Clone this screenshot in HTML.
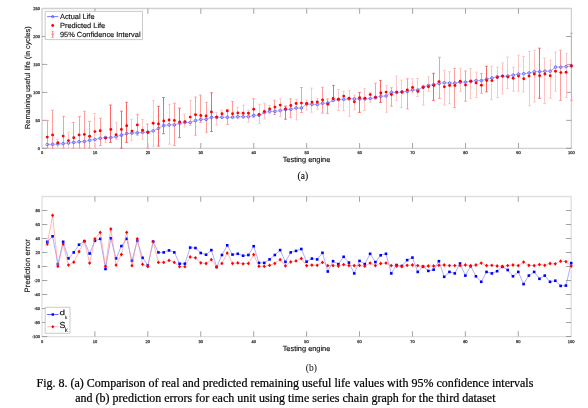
<!DOCTYPE html>
<html><head><meta charset="utf-8"><style>html,body{margin:0;padding:0;background:#fff;width:588px;height:408px;overflow:hidden;position:relative}</style></head>
<body>
<svg width="588" height="408" viewBox="0 0 588 408" style="position:absolute;left:0;top:0;will-change:transform">
<g font-family="'Liberation Sans', sans-serif" stroke-linejoin="round" text-rendering="geometricPrecision">
<rect x="42.0" y="8.5" width="529.4" height="139.8" fill="none" stroke="#d0d0d0" stroke-width="1.3"/>
<text x="42.00" y="154.10000000000002" font-size="4" text-anchor="middle" fill="#333" stroke="#333" stroke-width="0.25">0</text>
<line x1="94.94" y1="148.3" x2="94.94" y2="143.0" stroke="#8c8c8c" stroke-width="0.8"/>
<line x1="94.94" y1="8.5" x2="94.94" y2="13.8" stroke="#8c8c8c" stroke-width="0.8"/>
<text x="94.94" y="154.10000000000002" font-size="4" text-anchor="middle" fill="#333" stroke="#333" stroke-width="0.25">10</text>
<line x1="147.88" y1="148.3" x2="147.88" y2="143.0" stroke="#8c8c8c" stroke-width="0.8"/>
<line x1="147.88" y1="8.5" x2="147.88" y2="13.8" stroke="#8c8c8c" stroke-width="0.8"/>
<text x="147.88" y="154.10000000000002" font-size="4" text-anchor="middle" fill="#333" stroke="#333" stroke-width="0.25">20</text>
<line x1="200.82" y1="148.3" x2="200.82" y2="143.0" stroke="#8c8c8c" stroke-width="0.8"/>
<line x1="200.82" y1="8.5" x2="200.82" y2="13.8" stroke="#8c8c8c" stroke-width="0.8"/>
<text x="200.82" y="154.10000000000002" font-size="4" text-anchor="middle" fill="#333" stroke="#333" stroke-width="0.25">30</text>
<line x1="253.76" y1="148.3" x2="253.76" y2="143.0" stroke="#8c8c8c" stroke-width="0.8"/>
<line x1="253.76" y1="8.5" x2="253.76" y2="13.8" stroke="#8c8c8c" stroke-width="0.8"/>
<text x="253.76" y="154.10000000000002" font-size="4" text-anchor="middle" fill="#333" stroke="#333" stroke-width="0.25">40</text>
<line x1="306.70" y1="148.3" x2="306.70" y2="143.0" stroke="#8c8c8c" stroke-width="0.8"/>
<line x1="306.70" y1="8.5" x2="306.70" y2="13.8" stroke="#8c8c8c" stroke-width="0.8"/>
<text x="306.70" y="154.10000000000002" font-size="4" text-anchor="middle" fill="#333" stroke="#333" stroke-width="0.25">50</text>
<line x1="359.64" y1="148.3" x2="359.64" y2="143.0" stroke="#8c8c8c" stroke-width="0.8"/>
<line x1="359.64" y1="8.5" x2="359.64" y2="13.8" stroke="#8c8c8c" stroke-width="0.8"/>
<text x="359.64" y="154.10000000000002" font-size="4" text-anchor="middle" fill="#333" stroke="#333" stroke-width="0.25">60</text>
<line x1="412.58" y1="148.3" x2="412.58" y2="143.0" stroke="#8c8c8c" stroke-width="0.8"/>
<line x1="412.58" y1="8.5" x2="412.58" y2="13.8" stroke="#8c8c8c" stroke-width="0.8"/>
<text x="412.58" y="154.10000000000002" font-size="4" text-anchor="middle" fill="#333" stroke="#333" stroke-width="0.25">70</text>
<line x1="465.52" y1="148.3" x2="465.52" y2="143.0" stroke="#8c8c8c" stroke-width="0.8"/>
<line x1="465.52" y1="8.5" x2="465.52" y2="13.8" stroke="#8c8c8c" stroke-width="0.8"/>
<text x="465.52" y="154.10000000000002" font-size="4" text-anchor="middle" fill="#333" stroke="#333" stroke-width="0.25">80</text>
<line x1="518.46" y1="148.3" x2="518.46" y2="143.0" stroke="#8c8c8c" stroke-width="0.8"/>
<line x1="518.46" y1="8.5" x2="518.46" y2="13.8" stroke="#8c8c8c" stroke-width="0.8"/>
<text x="518.46" y="154.10000000000002" font-size="4" text-anchor="middle" fill="#333" stroke="#333" stroke-width="0.25">90</text>
<text x="571.40" y="154.10000000000002" font-size="4" text-anchor="middle" fill="#333" stroke="#333" stroke-width="0.25">100</text>
<line x1="42.0" y1="148.30" x2="47.3" y2="148.30" stroke="#8c8c8c" stroke-width="0.8"/>
<line x1="571.4" y1="148.30" x2="566.1" y2="148.30" stroke="#8c8c8c" stroke-width="0.8"/>
<text x="40.0" y="149.70" font-size="4" text-anchor="end" fill="#333" stroke="#333" stroke-width="0.25">0</text>
<line x1="42.0" y1="120.34" x2="47.3" y2="120.34" stroke="#8c8c8c" stroke-width="0.8"/>
<line x1="571.4" y1="120.34" x2="566.1" y2="120.34" stroke="#8c8c8c" stroke-width="0.8"/>
<text x="40.0" y="121.74" font-size="4" text-anchor="end" fill="#333" stroke="#333" stroke-width="0.25">50</text>
<line x1="42.0" y1="92.38" x2="47.3" y2="92.38" stroke="#8c8c8c" stroke-width="0.8"/>
<line x1="571.4" y1="92.38" x2="566.1" y2="92.38" stroke="#8c8c8c" stroke-width="0.8"/>
<text x="40.0" y="93.78" font-size="4" text-anchor="end" fill="#333" stroke="#333" stroke-width="0.25">100</text>
<line x1="42.0" y1="64.42" x2="47.3" y2="64.42" stroke="#8c8c8c" stroke-width="0.8"/>
<line x1="571.4" y1="64.42" x2="566.1" y2="64.42" stroke="#8c8c8c" stroke-width="0.8"/>
<text x="40.0" y="65.82" font-size="4" text-anchor="end" fill="#333" stroke="#333" stroke-width="0.25">150</text>
<line x1="42.0" y1="36.46" x2="47.3" y2="36.46" stroke="#8c8c8c" stroke-width="0.8"/>
<line x1="571.4" y1="36.46" x2="566.1" y2="36.46" stroke="#8c8c8c" stroke-width="0.8"/>
<text x="40.0" y="37.86" font-size="4" text-anchor="end" fill="#333" stroke="#333" stroke-width="0.25">200</text>
<text x="40.0" y="9.90" font-size="4" text-anchor="end" fill="#333" stroke="#333" stroke-width="0.25">250</text>
<line x1="47.50" y1="120.50" x2="47.50" y2="148.20" stroke="#ff9c9c" stroke-width="1"/>
<line x1="46.20" y1="120.50" x2="48.80" y2="120.50" stroke="#ff9c9c" stroke-width="1"/>
<line x1="46.20" y1="148.20" x2="48.80" y2="148.20" stroke="#ff9c9c" stroke-width="1"/>
<line x1="52.50" y1="110.30" x2="52.50" y2="148.20" stroke="#ff9c9c" stroke-width="1"/>
<line x1="51.20" y1="110.30" x2="53.80" y2="110.30" stroke="#ff9c9c" stroke-width="1"/>
<line x1="51.20" y1="148.20" x2="53.80" y2="148.20" stroke="#ff9c9c" stroke-width="1"/>
<line x1="57.50" y1="139.30" x2="57.50" y2="148.20" stroke="#ffc4c4" stroke-width="1"/>
<line x1="56.20" y1="139.30" x2="58.80" y2="139.30" stroke="#ffc4c4" stroke-width="1"/>
<line x1="56.20" y1="148.20" x2="58.80" y2="148.20" stroke="#ffc4c4" stroke-width="1"/>
<line x1="63.50" y1="116.40" x2="63.50" y2="148.20" stroke="#ff9c9c" stroke-width="1"/>
<line x1="62.20" y1="116.40" x2="64.80" y2="116.40" stroke="#ff9c9c" stroke-width="1"/>
<line x1="62.20" y1="148.20" x2="64.80" y2="148.20" stroke="#ff9c9c" stroke-width="1"/>
<line x1="68.50" y1="132.20" x2="68.50" y2="148.20" stroke="#ffc4c4" stroke-width="1"/>
<line x1="67.20" y1="132.20" x2="69.80" y2="132.20" stroke="#ffc4c4" stroke-width="1"/>
<line x1="67.20" y1="148.20" x2="69.80" y2="148.20" stroke="#ffc4c4" stroke-width="1"/>
<line x1="73.50" y1="122.40" x2="73.50" y2="148.20" stroke="#ff9c9c" stroke-width="1"/>
<line x1="72.20" y1="122.40" x2="74.80" y2="122.40" stroke="#ff9c9c" stroke-width="1"/>
<line x1="72.20" y1="148.20" x2="74.80" y2="148.20" stroke="#ff9c9c" stroke-width="1"/>
<line x1="79.50" y1="116.50" x2="79.50" y2="148.20" stroke="#ff9c9c" stroke-width="1"/>
<line x1="78.20" y1="116.50" x2="80.80" y2="116.50" stroke="#ff9c9c" stroke-width="1"/>
<line x1="78.20" y1="148.20" x2="80.80" y2="148.20" stroke="#ff9c9c" stroke-width="1"/>
<line x1="84.50" y1="111.30" x2="84.50" y2="148.20" stroke="#ff9c9c" stroke-width="1"/>
<line x1="83.20" y1="111.30" x2="85.80" y2="111.30" stroke="#ff9c9c" stroke-width="1"/>
<line x1="83.20" y1="148.20" x2="85.80" y2="148.20" stroke="#ff9c9c" stroke-width="1"/>
<line x1="89.50" y1="121.30" x2="89.50" y2="148.20" stroke="#ff9c9c" stroke-width="1"/>
<line x1="88.20" y1="121.30" x2="90.80" y2="121.30" stroke="#ff9c9c" stroke-width="1"/>
<line x1="88.20" y1="148.20" x2="90.80" y2="148.20" stroke="#ff9c9c" stroke-width="1"/>
<line x1="94.50" y1="113.50" x2="94.50" y2="148.20" stroke="#ffc4c4" stroke-width="1"/>
<line x1="93.20" y1="113.50" x2="95.80" y2="113.50" stroke="#ffc4c4" stroke-width="1"/>
<line x1="93.20" y1="148.20" x2="95.80" y2="148.20" stroke="#ffc4c4" stroke-width="1"/>
<line x1="100.50" y1="118.30" x2="100.50" y2="145.50" stroke="#ff9c9c" stroke-width="1"/>
<line x1="99.20" y1="118.30" x2="101.80" y2="118.30" stroke="#ff9c9c" stroke-width="1"/>
<line x1="99.20" y1="145.50" x2="101.80" y2="145.50" stroke="#ff9c9c" stroke-width="1"/>
<line x1="105.50" y1="136.50" x2="105.50" y2="142.40" stroke="#ffc4c4" stroke-width="1"/>
<line x1="104.20" y1="136.50" x2="106.80" y2="136.50" stroke="#ffc4c4" stroke-width="1"/>
<line x1="104.20" y1="142.40" x2="106.80" y2="142.40" stroke="#ffc4c4" stroke-width="1"/>
<line x1="110.50" y1="105.10" x2="110.50" y2="142.40" stroke="#ff6464" stroke-width="1"/>
<line x1="109.20" y1="105.10" x2="111.80" y2="105.10" stroke="#ff6464" stroke-width="1"/>
<line x1="109.20" y1="142.40" x2="111.80" y2="142.40" stroke="#ff6464" stroke-width="1"/>
<line x1="116.50" y1="122.40" x2="116.50" y2="139.50" stroke="#ffc4c4" stroke-width="1"/>
<line x1="115.20" y1="122.40" x2="117.80" y2="122.40" stroke="#ffc4c4" stroke-width="1"/>
<line x1="115.20" y1="139.50" x2="117.80" y2="139.50" stroke="#ffc4c4" stroke-width="1"/>
<line x1="121.50" y1="111.20" x2="121.50" y2="148.20" stroke="#ff6464" stroke-width="1"/>
<line x1="120.20" y1="111.20" x2="122.80" y2="111.20" stroke="#ff6464" stroke-width="1"/>
<line x1="120.20" y1="148.20" x2="122.80" y2="148.20" stroke="#ff6464" stroke-width="1"/>
<line x1="126.50" y1="102.40" x2="126.50" y2="142.40" stroke="#ff6464" stroke-width="1"/>
<line x1="125.20" y1="102.40" x2="127.80" y2="102.40" stroke="#ff6464" stroke-width="1"/>
<line x1="125.20" y1="142.40" x2="127.80" y2="142.40" stroke="#ff6464" stroke-width="1"/>
<line x1="131.50" y1="119.30" x2="131.50" y2="140.60" stroke="#ffc4c4" stroke-width="1"/>
<line x1="130.20" y1="119.30" x2="132.80" y2="119.30" stroke="#ffc4c4" stroke-width="1"/>
<line x1="130.20" y1="140.60" x2="132.80" y2="140.60" stroke="#ffc4c4" stroke-width="1"/>
<line x1="137.50" y1="114.30" x2="137.50" y2="135.20" stroke="#ff9c9c" stroke-width="1"/>
<line x1="136.20" y1="114.30" x2="138.80" y2="114.30" stroke="#ff9c9c" stroke-width="1"/>
<line x1="136.20" y1="135.20" x2="138.80" y2="135.20" stroke="#ff9c9c" stroke-width="1"/>
<line x1="142.50" y1="119.30" x2="142.50" y2="139.20" stroke="#ffc4c4" stroke-width="1"/>
<line x1="141.20" y1="119.30" x2="143.80" y2="119.30" stroke="#ffc4c4" stroke-width="1"/>
<line x1="141.20" y1="139.20" x2="143.80" y2="139.20" stroke="#ffc4c4" stroke-width="1"/>
<line x1="147.50" y1="124.00" x2="147.50" y2="148.20" stroke="#ff9c9c" stroke-width="1"/>
<line x1="146.20" y1="124.00" x2="148.80" y2="124.00" stroke="#ff9c9c" stroke-width="1"/>
<line x1="146.20" y1="148.20" x2="148.80" y2="148.20" stroke="#ff9c9c" stroke-width="1"/>
<line x1="153.50" y1="100.40" x2="153.50" y2="146.20" stroke="#ffc4c4" stroke-width="1"/>
<line x1="152.20" y1="100.40" x2="154.80" y2="100.40" stroke="#ffc4c4" stroke-width="1"/>
<line x1="152.20" y1="146.20" x2="154.80" y2="146.20" stroke="#ffc4c4" stroke-width="1"/>
<line x1="158.50" y1="106.30" x2="158.50" y2="146.10" stroke="#ff6464" stroke-width="1"/>
<line x1="157.20" y1="106.30" x2="159.80" y2="106.30" stroke="#ff6464" stroke-width="1"/>
<line x1="157.20" y1="146.10" x2="159.80" y2="146.10" stroke="#ff6464" stroke-width="1"/>
<line x1="163.50" y1="97.50" x2="163.50" y2="133.70" stroke="#ff6464" stroke-width="1"/>
<line x1="162.20" y1="97.50" x2="164.80" y2="97.50" stroke="#ff6464" stroke-width="1"/>
<line x1="162.20" y1="133.70" x2="164.80" y2="133.70" stroke="#ff6464" stroke-width="1"/>
<line x1="169.50" y1="104.30" x2="169.50" y2="144.10" stroke="#ffc4c4" stroke-width="1"/>
<line x1="168.20" y1="104.30" x2="170.80" y2="104.30" stroke="#ffc4c4" stroke-width="1"/>
<line x1="168.20" y1="144.10" x2="170.80" y2="144.10" stroke="#ffc4c4" stroke-width="1"/>
<line x1="174.50" y1="103.30" x2="174.50" y2="145.50" stroke="#ff9c9c" stroke-width="1"/>
<line x1="173.20" y1="103.30" x2="175.80" y2="103.30" stroke="#ff9c9c" stroke-width="1"/>
<line x1="173.20" y1="145.50" x2="175.80" y2="145.50" stroke="#ff9c9c" stroke-width="1"/>
<line x1="179.50" y1="108.20" x2="179.50" y2="137.60" stroke="#ff6464" stroke-width="1"/>
<line x1="178.20" y1="108.20" x2="180.80" y2="108.20" stroke="#ff6464" stroke-width="1"/>
<line x1="178.20" y1="137.60" x2="180.80" y2="137.60" stroke="#ff6464" stroke-width="1"/>
<line x1="184.50" y1="114.10" x2="184.50" y2="126.90" stroke="#ffc4c4" stroke-width="1"/>
<line x1="183.20" y1="114.10" x2="185.80" y2="114.10" stroke="#ffc4c4" stroke-width="1"/>
<line x1="183.20" y1="126.90" x2="185.80" y2="126.90" stroke="#ffc4c4" stroke-width="1"/>
<line x1="190.50" y1="100.40" x2="190.50" y2="125.50" stroke="#ffc4c4" stroke-width="1"/>
<line x1="189.20" y1="100.40" x2="191.80" y2="100.40" stroke="#ffc4c4" stroke-width="1"/>
<line x1="189.20" y1="125.50" x2="191.80" y2="125.50" stroke="#ffc4c4" stroke-width="1"/>
<line x1="195.50" y1="97.10" x2="195.50" y2="135.10" stroke="#ff9c9c" stroke-width="1"/>
<line x1="194.20" y1="97.10" x2="196.80" y2="97.10" stroke="#ff9c9c" stroke-width="1"/>
<line x1="194.20" y1="135.10" x2="196.80" y2="135.10" stroke="#ff9c9c" stroke-width="1"/>
<line x1="200.50" y1="95.10" x2="200.50" y2="122.50" stroke="#ff9c9c" stroke-width="1"/>
<line x1="199.20" y1="95.10" x2="201.80" y2="95.10" stroke="#ff9c9c" stroke-width="1"/>
<line x1="199.20" y1="122.50" x2="201.80" y2="122.50" stroke="#ff9c9c" stroke-width="1"/>
<line x1="206.50" y1="102.30" x2="206.50" y2="132.20" stroke="#ff9c9c" stroke-width="1"/>
<line x1="205.20" y1="102.30" x2="207.80" y2="102.30" stroke="#ff9c9c" stroke-width="1"/>
<line x1="205.20" y1="132.20" x2="207.80" y2="132.20" stroke="#ff9c9c" stroke-width="1"/>
<line x1="211.50" y1="92.80" x2="211.50" y2="131.50" stroke="#ff6464" stroke-width="1"/>
<line x1="210.20" y1="92.80" x2="212.80" y2="92.80" stroke="#ff6464" stroke-width="1"/>
<line x1="210.20" y1="131.50" x2="212.80" y2="131.50" stroke="#ff6464" stroke-width="1"/>
<line x1="216.50" y1="112.40" x2="216.50" y2="124.80" stroke="#ffc4c4" stroke-width="1"/>
<line x1="215.20" y1="112.40" x2="217.80" y2="112.40" stroke="#ffc4c4" stroke-width="1"/>
<line x1="215.20" y1="124.80" x2="217.80" y2="124.80" stroke="#ffc4c4" stroke-width="1"/>
<line x1="221.50" y1="110.20" x2="221.50" y2="117.30" stroke="#ffc4c4" stroke-width="1"/>
<line x1="220.20" y1="110.20" x2="222.80" y2="110.20" stroke="#ffc4c4" stroke-width="1"/>
<line x1="220.20" y1="117.30" x2="222.80" y2="117.30" stroke="#ffc4c4" stroke-width="1"/>
<line x1="227.50" y1="109.30" x2="227.50" y2="124.40" stroke="#ff9c9c" stroke-width="1"/>
<line x1="226.20" y1="109.30" x2="228.80" y2="109.30" stroke="#ff9c9c" stroke-width="1"/>
<line x1="226.20" y1="124.40" x2="228.80" y2="124.40" stroke="#ff9c9c" stroke-width="1"/>
<line x1="232.50" y1="101.40" x2="232.50" y2="117.30" stroke="#ff9c9c" stroke-width="1"/>
<line x1="231.20" y1="101.40" x2="233.80" y2="101.40" stroke="#ff9c9c" stroke-width="1"/>
<line x1="231.20" y1="117.30" x2="233.80" y2="117.30" stroke="#ff9c9c" stroke-width="1"/>
<line x1="237.50" y1="107.20" x2="237.50" y2="118.70" stroke="#ffc4c4" stroke-width="1"/>
<line x1="236.20" y1="107.20" x2="238.80" y2="107.20" stroke="#ffc4c4" stroke-width="1"/>
<line x1="236.20" y1="118.70" x2="238.80" y2="118.70" stroke="#ffc4c4" stroke-width="1"/>
<line x1="243.50" y1="105.20" x2="243.50" y2="118.00" stroke="#ffc4c4" stroke-width="1"/>
<line x1="242.20" y1="105.20" x2="244.80" y2="105.20" stroke="#ffc4c4" stroke-width="1"/>
<line x1="242.20" y1="118.00" x2="244.80" y2="118.00" stroke="#ffc4c4" stroke-width="1"/>
<line x1="248.50" y1="110.30" x2="248.50" y2="122.10" stroke="#ffc4c4" stroke-width="1"/>
<line x1="247.20" y1="110.30" x2="249.80" y2="110.30" stroke="#ffc4c4" stroke-width="1"/>
<line x1="247.20" y1="122.10" x2="249.80" y2="122.10" stroke="#ffc4c4" stroke-width="1"/>
<line x1="253.50" y1="98.70" x2="253.50" y2="117.30" stroke="#ff9c9c" stroke-width="1"/>
<line x1="252.20" y1="98.70" x2="254.80" y2="98.70" stroke="#ff9c9c" stroke-width="1"/>
<line x1="252.20" y1="117.30" x2="254.80" y2="117.30" stroke="#ff9c9c" stroke-width="1"/>
<line x1="259.50" y1="104.30" x2="259.50" y2="123.40" stroke="#ffc4c4" stroke-width="1"/>
<line x1="258.20" y1="104.30" x2="260.80" y2="104.30" stroke="#ffc4c4" stroke-width="1"/>
<line x1="258.20" y1="123.40" x2="260.80" y2="123.40" stroke="#ffc4c4" stroke-width="1"/>
<line x1="264.50" y1="103.20" x2="264.50" y2="118.80" stroke="#ffc4c4" stroke-width="1"/>
<line x1="263.20" y1="103.20" x2="265.80" y2="103.20" stroke="#ffc4c4" stroke-width="1"/>
<line x1="263.20" y1="118.80" x2="265.80" y2="118.80" stroke="#ffc4c4" stroke-width="1"/>
<line x1="269.50" y1="105.50" x2="269.50" y2="113.90" stroke="#ffc4c4" stroke-width="1"/>
<line x1="268.20" y1="105.50" x2="270.80" y2="105.50" stroke="#ffc4c4" stroke-width="1"/>
<line x1="268.20" y1="113.90" x2="270.80" y2="113.90" stroke="#ffc4c4" stroke-width="1"/>
<line x1="274.50" y1="100.20" x2="274.50" y2="114.50" stroke="#ff9c9c" stroke-width="1"/>
<line x1="273.20" y1="100.20" x2="275.80" y2="100.20" stroke="#ff9c9c" stroke-width="1"/>
<line x1="273.20" y1="114.50" x2="275.80" y2="114.50" stroke="#ff9c9c" stroke-width="1"/>
<line x1="280.50" y1="98.80" x2="280.50" y2="116.50" stroke="#ffc4c4" stroke-width="1"/>
<line x1="279.20" y1="98.80" x2="281.80" y2="98.80" stroke="#ffc4c4" stroke-width="1"/>
<line x1="279.20" y1="116.50" x2="281.80" y2="116.50" stroke="#ffc4c4" stroke-width="1"/>
<line x1="285.50" y1="106.10" x2="285.50" y2="119.20" stroke="#ff6464" stroke-width="1"/>
<line x1="284.20" y1="106.10" x2="286.80" y2="106.10" stroke="#ff6464" stroke-width="1"/>
<line x1="284.20" y1="119.20" x2="286.80" y2="119.20" stroke="#ff6464" stroke-width="1"/>
<line x1="290.50" y1="98.80" x2="290.50" y2="117.30" stroke="#ff9c9c" stroke-width="1"/>
<line x1="289.20" y1="98.80" x2="291.80" y2="98.80" stroke="#ff9c9c" stroke-width="1"/>
<line x1="289.20" y1="117.30" x2="291.80" y2="117.30" stroke="#ff9c9c" stroke-width="1"/>
<line x1="296.50" y1="99.20" x2="296.50" y2="119.80" stroke="#ffc4c4" stroke-width="1"/>
<line x1="295.20" y1="99.20" x2="297.80" y2="99.20" stroke="#ffc4c4" stroke-width="1"/>
<line x1="295.20" y1="119.80" x2="297.80" y2="119.80" stroke="#ffc4c4" stroke-width="1"/>
<line x1="301.50" y1="87.50" x2="301.50" y2="112.50" stroke="#ff9c9c" stroke-width="1"/>
<line x1="300.20" y1="87.50" x2="302.80" y2="87.50" stroke="#ff9c9c" stroke-width="1"/>
<line x1="300.20" y1="112.50" x2="302.80" y2="112.50" stroke="#ff9c9c" stroke-width="1"/>
<line x1="306.50" y1="100.20" x2="306.50" y2="110.00" stroke="#ffc4c4" stroke-width="1"/>
<line x1="305.20" y1="100.20" x2="307.80" y2="100.20" stroke="#ffc4c4" stroke-width="1"/>
<line x1="305.20" y1="110.00" x2="307.80" y2="110.00" stroke="#ffc4c4" stroke-width="1"/>
<line x1="311.50" y1="88.10" x2="311.50" y2="112.20" stroke="#ffc4c4" stroke-width="1"/>
<line x1="310.20" y1="88.10" x2="312.80" y2="88.10" stroke="#ffc4c4" stroke-width="1"/>
<line x1="310.20" y1="112.20" x2="312.80" y2="112.20" stroke="#ffc4c4" stroke-width="1"/>
<line x1="317.50" y1="98.60" x2="317.50" y2="109.20" stroke="#ffc4c4" stroke-width="1"/>
<line x1="316.20" y1="98.60" x2="318.80" y2="98.60" stroke="#ffc4c4" stroke-width="1"/>
<line x1="316.20" y1="109.20" x2="318.80" y2="109.20" stroke="#ffc4c4" stroke-width="1"/>
<line x1="322.50" y1="87.30" x2="322.50" y2="113.10" stroke="#ff9c9c" stroke-width="1"/>
<line x1="321.20" y1="87.30" x2="323.80" y2="87.30" stroke="#ff9c9c" stroke-width="1"/>
<line x1="321.20" y1="113.10" x2="323.80" y2="113.10" stroke="#ff9c9c" stroke-width="1"/>
<line x1="327.50" y1="98.90" x2="327.50" y2="113.40" stroke="#ff9c9c" stroke-width="1"/>
<line x1="326.20" y1="98.90" x2="328.80" y2="98.90" stroke="#ff9c9c" stroke-width="1"/>
<line x1="326.20" y1="113.40" x2="328.80" y2="113.40" stroke="#ff9c9c" stroke-width="1"/>
<line x1="333.50" y1="85.40" x2="333.50" y2="100.00" stroke="#ff6464" stroke-width="1"/>
<line x1="332.20" y1="85.40" x2="334.80" y2="85.40" stroke="#ff6464" stroke-width="1"/>
<line x1="332.20" y1="100.00" x2="334.80" y2="100.00" stroke="#ff6464" stroke-width="1"/>
<line x1="338.50" y1="89.50" x2="338.50" y2="110.50" stroke="#ffc4c4" stroke-width="1"/>
<line x1="337.20" y1="89.50" x2="339.80" y2="89.50" stroke="#ffc4c4" stroke-width="1"/>
<line x1="337.20" y1="110.50" x2="339.80" y2="110.50" stroke="#ffc4c4" stroke-width="1"/>
<line x1="343.50" y1="91.30" x2="343.50" y2="110.50" stroke="#ffc4c4" stroke-width="1"/>
<line x1="342.20" y1="91.30" x2="344.80" y2="91.30" stroke="#ffc4c4" stroke-width="1"/>
<line x1="342.20" y1="110.50" x2="344.80" y2="110.50" stroke="#ffc4c4" stroke-width="1"/>
<line x1="349.50" y1="90.30" x2="349.50" y2="116.40" stroke="#ffc4c4" stroke-width="1"/>
<line x1="348.20" y1="90.30" x2="350.80" y2="90.30" stroke="#ffc4c4" stroke-width="1"/>
<line x1="348.20" y1="116.40" x2="350.80" y2="116.40" stroke="#ffc4c4" stroke-width="1"/>
<line x1="354.50" y1="95.20" x2="354.50" y2="109.90" stroke="#ffc4c4" stroke-width="1"/>
<line x1="353.20" y1="95.20" x2="355.80" y2="95.20" stroke="#ffc4c4" stroke-width="1"/>
<line x1="353.20" y1="109.90" x2="355.80" y2="109.90" stroke="#ffc4c4" stroke-width="1"/>
<line x1="359.50" y1="92.40" x2="359.50" y2="112.40" stroke="#ff6464" stroke-width="1"/>
<line x1="358.20" y1="92.40" x2="360.80" y2="92.40" stroke="#ff6464" stroke-width="1"/>
<line x1="358.20" y1="112.40" x2="360.80" y2="112.40" stroke="#ff6464" stroke-width="1"/>
<line x1="364.50" y1="88.70" x2="364.50" y2="110.50" stroke="#ffc4c4" stroke-width="1"/>
<line x1="363.20" y1="88.70" x2="365.80" y2="88.70" stroke="#ffc4c4" stroke-width="1"/>
<line x1="363.20" y1="110.50" x2="365.80" y2="110.50" stroke="#ffc4c4" stroke-width="1"/>
<line x1="370.50" y1="92.40" x2="370.50" y2="102.20" stroke="#ffc4c4" stroke-width="1"/>
<line x1="369.20" y1="92.40" x2="371.80" y2="92.40" stroke="#ffc4c4" stroke-width="1"/>
<line x1="369.20" y1="102.20" x2="371.80" y2="102.20" stroke="#ffc4c4" stroke-width="1"/>
<line x1="375.50" y1="83.20" x2="375.50" y2="98.80" stroke="#ff9c9c" stroke-width="1"/>
<line x1="374.20" y1="83.20" x2="376.80" y2="83.20" stroke="#ff9c9c" stroke-width="1"/>
<line x1="374.20" y1="98.80" x2="376.80" y2="98.80" stroke="#ff9c9c" stroke-width="1"/>
<line x1="380.50" y1="80.40" x2="380.50" y2="102.50" stroke="#ff6464" stroke-width="1"/>
<line x1="379.20" y1="80.40" x2="381.80" y2="80.40" stroke="#ff6464" stroke-width="1"/>
<line x1="379.20" y1="102.50" x2="381.80" y2="102.50" stroke="#ff6464" stroke-width="1"/>
<line x1="386.50" y1="85.30" x2="386.50" y2="112.30" stroke="#ffc4c4" stroke-width="1"/>
<line x1="385.20" y1="85.30" x2="387.80" y2="85.30" stroke="#ffc4c4" stroke-width="1"/>
<line x1="385.20" y1="112.30" x2="387.80" y2="112.30" stroke="#ffc4c4" stroke-width="1"/>
<line x1="391.50" y1="87.80" x2="391.50" y2="106.20" stroke="#ff9c9c" stroke-width="1"/>
<line x1="390.20" y1="87.80" x2="392.80" y2="87.80" stroke="#ff9c9c" stroke-width="1"/>
<line x1="390.20" y1="106.20" x2="392.80" y2="106.20" stroke="#ff9c9c" stroke-width="1"/>
<line x1="396.50" y1="76.10" x2="396.50" y2="100.60" stroke="#ffc4c4" stroke-width="1"/>
<line x1="395.20" y1="76.10" x2="397.80" y2="76.10" stroke="#ffc4c4" stroke-width="1"/>
<line x1="395.20" y1="100.60" x2="397.80" y2="100.60" stroke="#ffc4c4" stroke-width="1"/>
<line x1="401.50" y1="80.20" x2="401.50" y2="107.60" stroke="#ffc4c4" stroke-width="1"/>
<line x1="400.20" y1="80.20" x2="402.80" y2="80.20" stroke="#ffc4c4" stroke-width="1"/>
<line x1="400.20" y1="107.60" x2="402.80" y2="107.60" stroke="#ffc4c4" stroke-width="1"/>
<line x1="407.50" y1="78.80" x2="407.50" y2="109.00" stroke="#ff9c9c" stroke-width="1"/>
<line x1="406.20" y1="78.80" x2="408.80" y2="78.80" stroke="#ff9c9c" stroke-width="1"/>
<line x1="406.20" y1="109.00" x2="408.80" y2="109.00" stroke="#ff9c9c" stroke-width="1"/>
<line x1="412.50" y1="78.80" x2="412.50" y2="92.90" stroke="#ffc4c4" stroke-width="1"/>
<line x1="411.20" y1="78.80" x2="413.80" y2="78.80" stroke="#ffc4c4" stroke-width="1"/>
<line x1="411.20" y1="92.90" x2="413.80" y2="92.90" stroke="#ffc4c4" stroke-width="1"/>
<line x1="417.50" y1="78.50" x2="417.50" y2="96.50" stroke="#ffc4c4" stroke-width="1"/>
<line x1="416.20" y1="78.50" x2="418.80" y2="78.50" stroke="#ffc4c4" stroke-width="1"/>
<line x1="416.20" y1="96.50" x2="418.80" y2="96.50" stroke="#ffc4c4" stroke-width="1"/>
<line x1="423.50" y1="85.10" x2="423.50" y2="105.10" stroke="#ffc4c4" stroke-width="1"/>
<line x1="422.20" y1="85.10" x2="424.80" y2="85.10" stroke="#ffc4c4" stroke-width="1"/>
<line x1="422.20" y1="105.10" x2="424.80" y2="105.10" stroke="#ffc4c4" stroke-width="1"/>
<line x1="428.50" y1="76.90" x2="428.50" y2="91.40" stroke="#ffc4c4" stroke-width="1"/>
<line x1="427.20" y1="76.90" x2="429.80" y2="76.90" stroke="#ffc4c4" stroke-width="1"/>
<line x1="427.20" y1="91.40" x2="429.80" y2="91.40" stroke="#ffc4c4" stroke-width="1"/>
<line x1="433.50" y1="73.30" x2="433.50" y2="100.40" stroke="#ff6464" stroke-width="1"/>
<line x1="432.20" y1="73.30" x2="434.80" y2="73.30" stroke="#ff6464" stroke-width="1"/>
<line x1="432.20" y1="100.40" x2="434.80" y2="100.40" stroke="#ff6464" stroke-width="1"/>
<line x1="439.50" y1="57.30" x2="439.50" y2="98.40" stroke="#ff9c9c" stroke-width="1"/>
<line x1="438.20" y1="57.30" x2="440.80" y2="57.30" stroke="#ff9c9c" stroke-width="1"/>
<line x1="438.20" y1="98.40" x2="440.80" y2="98.40" stroke="#ff9c9c" stroke-width="1"/>
<line x1="444.50" y1="70.40" x2="444.50" y2="105.10" stroke="#ffc4c4" stroke-width="1"/>
<line x1="443.20" y1="70.40" x2="445.80" y2="70.40" stroke="#ffc4c4" stroke-width="1"/>
<line x1="443.20" y1="105.10" x2="445.80" y2="105.10" stroke="#ffc4c4" stroke-width="1"/>
<line x1="449.50" y1="71.80" x2="449.50" y2="103.70" stroke="#ffc4c4" stroke-width="1"/>
<line x1="448.20" y1="71.80" x2="450.80" y2="71.80" stroke="#ffc4c4" stroke-width="1"/>
<line x1="448.20" y1="103.70" x2="450.80" y2="103.70" stroke="#ffc4c4" stroke-width="1"/>
<line x1="454.50" y1="68.40" x2="454.50" y2="107.60" stroke="#ff9c9c" stroke-width="1"/>
<line x1="453.20" y1="68.40" x2="455.80" y2="68.40" stroke="#ff9c9c" stroke-width="1"/>
<line x1="453.20" y1="107.60" x2="455.80" y2="107.60" stroke="#ff9c9c" stroke-width="1"/>
<line x1="460.50" y1="68.40" x2="460.50" y2="91.40" stroke="#ffc4c4" stroke-width="1"/>
<line x1="459.20" y1="68.40" x2="461.80" y2="68.40" stroke="#ffc4c4" stroke-width="1"/>
<line x1="459.20" y1="91.40" x2="461.80" y2="91.40" stroke="#ffc4c4" stroke-width="1"/>
<line x1="465.50" y1="71.00" x2="465.50" y2="101.20" stroke="#ff9c9c" stroke-width="1"/>
<line x1="464.20" y1="71.00" x2="466.80" y2="71.00" stroke="#ff9c9c" stroke-width="1"/>
<line x1="464.20" y1="101.20" x2="466.80" y2="101.20" stroke="#ff9c9c" stroke-width="1"/>
<line x1="470.50" y1="68.60" x2="470.50" y2="98.40" stroke="#ffc4c4" stroke-width="1"/>
<line x1="469.20" y1="68.60" x2="471.80" y2="68.60" stroke="#ffc4c4" stroke-width="1"/>
<line x1="469.20" y1="98.40" x2="471.80" y2="98.40" stroke="#ffc4c4" stroke-width="1"/>
<line x1="476.50" y1="72.20" x2="476.50" y2="97.60" stroke="#ffc4c4" stroke-width="1"/>
<line x1="475.20" y1="72.20" x2="477.80" y2="72.20" stroke="#ffc4c4" stroke-width="1"/>
<line x1="475.20" y1="97.60" x2="477.80" y2="97.60" stroke="#ffc4c4" stroke-width="1"/>
<line x1="481.50" y1="73.50" x2="481.50" y2="93.10" stroke="#ff9c9c" stroke-width="1"/>
<line x1="480.20" y1="73.50" x2="482.80" y2="73.50" stroke="#ff9c9c" stroke-width="1"/>
<line x1="480.20" y1="93.10" x2="482.80" y2="93.10" stroke="#ff9c9c" stroke-width="1"/>
<line x1="486.50" y1="66.30" x2="486.50" y2="91.80" stroke="#ff6464" stroke-width="1"/>
<line x1="485.20" y1="66.30" x2="487.80" y2="66.30" stroke="#ff6464" stroke-width="1"/>
<line x1="485.20" y1="91.80" x2="487.80" y2="91.80" stroke="#ff6464" stroke-width="1"/>
<line x1="491.50" y1="66.30" x2="491.50" y2="99.60" stroke="#ffc4c4" stroke-width="1"/>
<line x1="490.20" y1="66.30" x2="492.80" y2="66.30" stroke="#ffc4c4" stroke-width="1"/>
<line x1="490.20" y1="99.60" x2="492.80" y2="99.60" stroke="#ffc4c4" stroke-width="1"/>
<line x1="497.50" y1="67.30" x2="497.50" y2="97.60" stroke="#ffc4c4" stroke-width="1"/>
<line x1="496.20" y1="67.30" x2="498.80" y2="67.30" stroke="#ffc4c4" stroke-width="1"/>
<line x1="496.20" y1="97.60" x2="498.80" y2="97.60" stroke="#ffc4c4" stroke-width="1"/>
<line x1="502.50" y1="62.90" x2="502.50" y2="93.70" stroke="#ffc4c4" stroke-width="1"/>
<line x1="501.20" y1="62.90" x2="503.80" y2="62.90" stroke="#ffc4c4" stroke-width="1"/>
<line x1="501.20" y1="93.70" x2="503.80" y2="93.70" stroke="#ffc4c4" stroke-width="1"/>
<line x1="507.50" y1="57.20" x2="507.50" y2="88.60" stroke="#ffc4c4" stroke-width="1"/>
<line x1="506.20" y1="57.20" x2="508.80" y2="57.20" stroke="#ffc4c4" stroke-width="1"/>
<line x1="506.20" y1="88.60" x2="508.80" y2="88.60" stroke="#ffc4c4" stroke-width="1"/>
<line x1="513.50" y1="67.20" x2="513.50" y2="91.20" stroke="#ffc4c4" stroke-width="1"/>
<line x1="512.20" y1="67.20" x2="514.80" y2="67.20" stroke="#ffc4c4" stroke-width="1"/>
<line x1="512.20" y1="91.20" x2="514.80" y2="91.20" stroke="#ffc4c4" stroke-width="1"/>
<line x1="518.50" y1="55.10" x2="518.50" y2="91.20" stroke="#ffc4c4" stroke-width="1"/>
<line x1="517.20" y1="55.10" x2="519.80" y2="55.10" stroke="#ffc4c4" stroke-width="1"/>
<line x1="517.20" y1="91.20" x2="519.80" y2="91.20" stroke="#ffc4c4" stroke-width="1"/>
<line x1="523.50" y1="56.50" x2="523.50" y2="92.00" stroke="#ffc4c4" stroke-width="1"/>
<line x1="522.20" y1="56.50" x2="524.80" y2="56.50" stroke="#ffc4c4" stroke-width="1"/>
<line x1="522.20" y1="92.00" x2="524.80" y2="92.00" stroke="#ffc4c4" stroke-width="1"/>
<line x1="529.50" y1="51.40" x2="529.50" y2="105.70" stroke="#ffc4c4" stroke-width="1"/>
<line x1="528.20" y1="51.40" x2="530.80" y2="51.40" stroke="#ffc4c4" stroke-width="1"/>
<line x1="528.20" y1="105.70" x2="530.80" y2="105.70" stroke="#ffc4c4" stroke-width="1"/>
<line x1="534.50" y1="50.30" x2="534.50" y2="102.00" stroke="#ffc4c4" stroke-width="1"/>
<line x1="533.20" y1="50.30" x2="535.80" y2="50.30" stroke="#ffc4c4" stroke-width="1"/>
<line x1="533.20" y1="102.00" x2="535.80" y2="102.00" stroke="#ffc4c4" stroke-width="1"/>
<line x1="539.50" y1="48.20" x2="539.50" y2="98.30" stroke="#ff6464" stroke-width="1"/>
<line x1="538.20" y1="48.20" x2="540.80" y2="48.20" stroke="#ff6464" stroke-width="1"/>
<line x1="538.20" y1="98.30" x2="540.80" y2="98.30" stroke="#ff6464" stroke-width="1"/>
<line x1="544.50" y1="58.00" x2="544.50" y2="103.50" stroke="#ffc4c4" stroke-width="1"/>
<line x1="543.20" y1="58.00" x2="545.80" y2="58.00" stroke="#ffc4c4" stroke-width="1"/>
<line x1="543.20" y1="103.50" x2="545.80" y2="103.50" stroke="#ffc4c4" stroke-width="1"/>
<line x1="550.50" y1="60.20" x2="550.50" y2="98.30" stroke="#ffc4c4" stroke-width="1"/>
<line x1="549.20" y1="60.20" x2="551.80" y2="60.20" stroke="#ffc4c4" stroke-width="1"/>
<line x1="549.20" y1="98.30" x2="551.80" y2="98.30" stroke="#ffc4c4" stroke-width="1"/>
<line x1="555.50" y1="52.00" x2="555.50" y2="91.10" stroke="#ffc4c4" stroke-width="1"/>
<line x1="554.20" y1="52.00" x2="556.80" y2="52.00" stroke="#ffc4c4" stroke-width="1"/>
<line x1="554.20" y1="91.10" x2="556.80" y2="91.10" stroke="#ffc4c4" stroke-width="1"/>
<line x1="560.50" y1="50.30" x2="560.50" y2="100.40" stroke="#ff9c9c" stroke-width="1"/>
<line x1="559.20" y1="50.30" x2="561.80" y2="50.30" stroke="#ff9c9c" stroke-width="1"/>
<line x1="559.20" y1="100.40" x2="561.80" y2="100.40" stroke="#ff9c9c" stroke-width="1"/>
<line x1="566.50" y1="53.40" x2="566.50" y2="97.50" stroke="#ffc4c4" stroke-width="1"/>
<line x1="565.20" y1="53.40" x2="567.80" y2="53.40" stroke="#ffc4c4" stroke-width="1"/>
<line x1="565.20" y1="97.50" x2="567.80" y2="97.50" stroke="#ffc4c4" stroke-width="1"/>
<line x1="571.50" y1="33.30" x2="571.50" y2="100.40" stroke="#ff9c9c" stroke-width="1"/>
<line x1="570.20" y1="33.30" x2="572.80" y2="33.30" stroke="#ff9c9c" stroke-width="1"/>
<line x1="570.20" y1="100.40" x2="572.80" y2="100.40" stroke="#ff9c9c" stroke-width="1"/>
<polyline points="47.29,144.50 52.59,144.30 57.88,144.00 63.18,143.60 68.47,143.00 73.76,142.40 79.06,141.80 84.35,141.50 89.65,140.30 94.94,139.50 100.23,138.30 105.53,137.60 110.82,137.60 116.12,136.60 121.41,135.20 126.70,133.60 132.00,133.10 137.29,132.80 142.59,132.30 147.88,132.00 153.17,130.90 158.47,128.40 163.76,125.50 169.06,124.90 174.35,124.90 179.64,123.30 184.94,122.50 190.23,122.50 195.53,120.60 200.82,119.40 206.11,119.40 211.41,117.30 216.70,117.30 222.00,117.30 227.29,117.30 232.58,117.30 237.88,116.70 243.17,116.70 248.47,116.70 253.76,115.30 259.05,115.30 264.35,112.50 269.64,111.40 274.94,111.40 280.23,110.60 285.52,109.40 290.82,109.40 296.11,108.00 301.41,108.00 306.70,104.10 311.99,104.30 317.29,104.50 322.58,103.30 327.88,103.00 333.17,100.50 338.46,99.50 343.76,99.30 349.05,98.90 354.35,98.90 359.64,98.90 364.93,98.90 370.23,98.50 375.52,97.60 380.82,96.30 386.11,96.00 391.40,92.30 396.70,92.40 401.99,92.00 407.29,91.40 412.58,90.00 417.87,90.00 423.17,87.00 428.46,85.50 433.76,84.70 439.05,83.50 444.34,82.70 449.64,83.10 454.93,83.10 460.23,82.20 465.52,82.20 470.81,81.30 476.11,80.60 481.40,80.60 486.70,79.00 491.99,78.00 497.28,76.70 502.58,76.10 507.87,76.00 513.17,75.10 518.46,74.10 523.75,73.70 529.05,73.00 534.34,71.70 539.64,71.70 544.93,71.20 550.22,71.20 555.52,67.10 560.81,67.10 566.11,66.60 571.40,66.10" fill="none" stroke="#9090ff" stroke-width="0.7"/>
<circle cx="47.29" cy="144.50" r="1.35" fill="none" stroke="#5050ff" stroke-width="0.75"/>
<circle cx="52.59" cy="144.30" r="1.35" fill="none" stroke="#5050ff" stroke-width="0.75"/>
<circle cx="57.88" cy="144.00" r="1.35" fill="none" stroke="#5050ff" stroke-width="0.75"/>
<circle cx="63.18" cy="143.60" r="1.35" fill="none" stroke="#5050ff" stroke-width="0.75"/>
<circle cx="68.47" cy="143.00" r="1.35" fill="none" stroke="#5050ff" stroke-width="0.75"/>
<circle cx="73.76" cy="142.40" r="1.35" fill="none" stroke="#5050ff" stroke-width="0.75"/>
<circle cx="79.06" cy="141.80" r="1.35" fill="none" stroke="#5050ff" stroke-width="0.75"/>
<circle cx="84.35" cy="141.50" r="1.35" fill="none" stroke="#5050ff" stroke-width="0.75"/>
<circle cx="89.65" cy="140.30" r="1.35" fill="none" stroke="#5050ff" stroke-width="0.75"/>
<circle cx="94.94" cy="139.50" r="1.35" fill="none" stroke="#5050ff" stroke-width="0.75"/>
<circle cx="100.23" cy="138.30" r="1.35" fill="none" stroke="#5050ff" stroke-width="0.75"/>
<circle cx="105.53" cy="137.60" r="1.35" fill="none" stroke="#5050ff" stroke-width="0.75"/>
<circle cx="110.82" cy="137.60" r="1.35" fill="none" stroke="#5050ff" stroke-width="0.75"/>
<circle cx="116.12" cy="136.60" r="1.35" fill="none" stroke="#5050ff" stroke-width="0.75"/>
<circle cx="121.41" cy="135.20" r="1.35" fill="none" stroke="#5050ff" stroke-width="0.75"/>
<circle cx="126.70" cy="133.60" r="1.35" fill="none" stroke="#5050ff" stroke-width="0.75"/>
<circle cx="132.00" cy="133.10" r="1.35" fill="none" stroke="#5050ff" stroke-width="0.75"/>
<circle cx="137.29" cy="132.80" r="1.35" fill="none" stroke="#5050ff" stroke-width="0.75"/>
<circle cx="142.59" cy="132.30" r="1.35" fill="none" stroke="#5050ff" stroke-width="0.75"/>
<circle cx="147.88" cy="132.00" r="1.35" fill="none" stroke="#5050ff" stroke-width="0.75"/>
<circle cx="153.17" cy="130.90" r="1.35" fill="none" stroke="#5050ff" stroke-width="0.75"/>
<circle cx="158.47" cy="128.40" r="1.35" fill="none" stroke="#5050ff" stroke-width="0.75"/>
<circle cx="163.76" cy="125.50" r="1.35" fill="none" stroke="#5050ff" stroke-width="0.75"/>
<circle cx="169.06" cy="124.90" r="1.35" fill="none" stroke="#5050ff" stroke-width="0.75"/>
<circle cx="174.35" cy="124.90" r="1.35" fill="none" stroke="#5050ff" stroke-width="0.75"/>
<circle cx="179.64" cy="123.30" r="1.35" fill="none" stroke="#5050ff" stroke-width="0.75"/>
<circle cx="184.94" cy="122.50" r="1.35" fill="none" stroke="#5050ff" stroke-width="0.75"/>
<circle cx="190.23" cy="122.50" r="1.35" fill="none" stroke="#5050ff" stroke-width="0.75"/>
<circle cx="195.53" cy="120.60" r="1.35" fill="none" stroke="#5050ff" stroke-width="0.75"/>
<circle cx="200.82" cy="119.40" r="1.35" fill="none" stroke="#5050ff" stroke-width="0.75"/>
<circle cx="206.11" cy="119.40" r="1.35" fill="none" stroke="#5050ff" stroke-width="0.75"/>
<circle cx="211.41" cy="117.30" r="1.35" fill="none" stroke="#5050ff" stroke-width="0.75"/>
<circle cx="216.70" cy="117.30" r="1.35" fill="none" stroke="#5050ff" stroke-width="0.75"/>
<circle cx="222.00" cy="117.30" r="1.35" fill="none" stroke="#5050ff" stroke-width="0.75"/>
<circle cx="227.29" cy="117.30" r="1.35" fill="none" stroke="#5050ff" stroke-width="0.75"/>
<circle cx="232.58" cy="117.30" r="1.35" fill="none" stroke="#5050ff" stroke-width="0.75"/>
<circle cx="237.88" cy="116.70" r="1.35" fill="none" stroke="#5050ff" stroke-width="0.75"/>
<circle cx="243.17" cy="116.70" r="1.35" fill="none" stroke="#5050ff" stroke-width="0.75"/>
<circle cx="248.47" cy="116.70" r="1.35" fill="none" stroke="#5050ff" stroke-width="0.75"/>
<circle cx="253.76" cy="115.30" r="1.35" fill="none" stroke="#5050ff" stroke-width="0.75"/>
<circle cx="259.05" cy="115.30" r="1.35" fill="none" stroke="#5050ff" stroke-width="0.75"/>
<circle cx="264.35" cy="112.50" r="1.35" fill="none" stroke="#5050ff" stroke-width="0.75"/>
<circle cx="269.64" cy="111.40" r="1.35" fill="none" stroke="#5050ff" stroke-width="0.75"/>
<circle cx="274.94" cy="111.40" r="1.35" fill="none" stroke="#5050ff" stroke-width="0.75"/>
<circle cx="280.23" cy="110.60" r="1.35" fill="none" stroke="#5050ff" stroke-width="0.75"/>
<circle cx="285.52" cy="109.40" r="1.35" fill="none" stroke="#5050ff" stroke-width="0.75"/>
<circle cx="290.82" cy="109.40" r="1.35" fill="none" stroke="#5050ff" stroke-width="0.75"/>
<circle cx="296.11" cy="108.00" r="1.35" fill="none" stroke="#5050ff" stroke-width="0.75"/>
<circle cx="301.41" cy="108.00" r="1.35" fill="none" stroke="#5050ff" stroke-width="0.75"/>
<circle cx="306.70" cy="104.10" r="1.35" fill="none" stroke="#5050ff" stroke-width="0.75"/>
<circle cx="311.99" cy="104.30" r="1.35" fill="none" stroke="#5050ff" stroke-width="0.75"/>
<circle cx="317.29" cy="104.50" r="1.35" fill="none" stroke="#5050ff" stroke-width="0.75"/>
<circle cx="322.58" cy="103.30" r="1.35" fill="none" stroke="#5050ff" stroke-width="0.75"/>
<circle cx="327.88" cy="103.00" r="1.35" fill="none" stroke="#5050ff" stroke-width="0.75"/>
<circle cx="333.17" cy="100.50" r="1.35" fill="none" stroke="#5050ff" stroke-width="0.75"/>
<circle cx="338.46" cy="99.50" r="1.35" fill="none" stroke="#5050ff" stroke-width="0.75"/>
<circle cx="343.76" cy="99.30" r="1.35" fill="none" stroke="#5050ff" stroke-width="0.75"/>
<circle cx="349.05" cy="98.90" r="1.35" fill="none" stroke="#5050ff" stroke-width="0.75"/>
<circle cx="354.35" cy="98.90" r="1.35" fill="none" stroke="#5050ff" stroke-width="0.75"/>
<circle cx="359.64" cy="98.90" r="1.35" fill="none" stroke="#5050ff" stroke-width="0.75"/>
<circle cx="364.93" cy="98.90" r="1.35" fill="none" stroke="#5050ff" stroke-width="0.75"/>
<circle cx="370.23" cy="98.50" r="1.35" fill="none" stroke="#5050ff" stroke-width="0.75"/>
<circle cx="375.52" cy="97.60" r="1.35" fill="none" stroke="#5050ff" stroke-width="0.75"/>
<circle cx="380.82" cy="96.30" r="1.35" fill="none" stroke="#5050ff" stroke-width="0.75"/>
<circle cx="386.11" cy="96.00" r="1.35" fill="none" stroke="#5050ff" stroke-width="0.75"/>
<circle cx="391.40" cy="92.30" r="1.35" fill="none" stroke="#5050ff" stroke-width="0.75"/>
<circle cx="396.70" cy="92.40" r="1.35" fill="none" stroke="#5050ff" stroke-width="0.75"/>
<circle cx="401.99" cy="92.00" r="1.35" fill="none" stroke="#5050ff" stroke-width="0.75"/>
<circle cx="407.29" cy="91.40" r="1.35" fill="none" stroke="#5050ff" stroke-width="0.75"/>
<circle cx="412.58" cy="90.00" r="1.35" fill="none" stroke="#5050ff" stroke-width="0.75"/>
<circle cx="417.87" cy="90.00" r="1.35" fill="none" stroke="#5050ff" stroke-width="0.75"/>
<circle cx="423.17" cy="87.00" r="1.35" fill="none" stroke="#5050ff" stroke-width="0.75"/>
<circle cx="428.46" cy="85.50" r="1.35" fill="none" stroke="#5050ff" stroke-width="0.75"/>
<circle cx="433.76" cy="84.70" r="1.35" fill="none" stroke="#5050ff" stroke-width="0.75"/>
<circle cx="439.05" cy="83.50" r="1.35" fill="none" stroke="#5050ff" stroke-width="0.75"/>
<circle cx="444.34" cy="82.70" r="1.35" fill="none" stroke="#5050ff" stroke-width="0.75"/>
<circle cx="449.64" cy="83.10" r="1.35" fill="none" stroke="#5050ff" stroke-width="0.75"/>
<circle cx="454.93" cy="83.10" r="1.35" fill="none" stroke="#5050ff" stroke-width="0.75"/>
<circle cx="460.23" cy="82.20" r="1.35" fill="none" stroke="#5050ff" stroke-width="0.75"/>
<circle cx="465.52" cy="82.20" r="1.35" fill="none" stroke="#5050ff" stroke-width="0.75"/>
<circle cx="470.81" cy="81.30" r="1.35" fill="none" stroke="#5050ff" stroke-width="0.75"/>
<circle cx="476.11" cy="80.60" r="1.35" fill="none" stroke="#5050ff" stroke-width="0.75"/>
<circle cx="481.40" cy="80.60" r="1.35" fill="none" stroke="#5050ff" stroke-width="0.75"/>
<circle cx="486.70" cy="79.00" r="1.35" fill="none" stroke="#5050ff" stroke-width="0.75"/>
<circle cx="491.99" cy="78.00" r="1.35" fill="none" stroke="#5050ff" stroke-width="0.75"/>
<circle cx="497.28" cy="76.70" r="1.35" fill="none" stroke="#5050ff" stroke-width="0.75"/>
<circle cx="502.58" cy="76.10" r="1.35" fill="none" stroke="#5050ff" stroke-width="0.75"/>
<circle cx="507.87" cy="76.00" r="1.35" fill="none" stroke="#5050ff" stroke-width="0.75"/>
<circle cx="513.17" cy="75.10" r="1.35" fill="none" stroke="#5050ff" stroke-width="0.75"/>
<circle cx="518.46" cy="74.10" r="1.35" fill="none" stroke="#5050ff" stroke-width="0.75"/>
<circle cx="523.75" cy="73.70" r="1.35" fill="none" stroke="#5050ff" stroke-width="0.75"/>
<circle cx="529.05" cy="73.00" r="1.35" fill="none" stroke="#5050ff" stroke-width="0.75"/>
<circle cx="534.34" cy="71.70" r="1.35" fill="none" stroke="#5050ff" stroke-width="0.75"/>
<circle cx="539.64" cy="71.70" r="1.35" fill="none" stroke="#5050ff" stroke-width="0.75"/>
<circle cx="544.93" cy="71.20" r="1.35" fill="none" stroke="#5050ff" stroke-width="0.75"/>
<circle cx="550.22" cy="71.20" r="1.35" fill="none" stroke="#5050ff" stroke-width="0.75"/>
<circle cx="555.52" cy="67.10" r="1.35" fill="none" stroke="#5050ff" stroke-width="0.75"/>
<circle cx="560.81" cy="67.10" r="1.35" fill="none" stroke="#5050ff" stroke-width="0.75"/>
<circle cx="566.11" cy="66.60" r="1.35" fill="none" stroke="#5050ff" stroke-width="0.75"/>
<circle cx="571.40" cy="66.10" r="1.35" fill="none" stroke="#5050ff" stroke-width="0.75"/>
<circle cx="47.29" cy="137.10" r="1.45" fill="#ff0000"/>
<circle cx="52.59" cy="134.90" r="1.45" fill="#ff0000"/>
<circle cx="57.88" cy="142.80" r="1.45" fill="#ff0000"/>
<circle cx="63.18" cy="136.10" r="1.45" fill="#ff0000"/>
<circle cx="68.47" cy="140.60" r="1.45" fill="#ff0000"/>
<circle cx="73.76" cy="137.80" r="1.45" fill="#ff0000"/>
<circle cx="79.06" cy="134.90" r="1.45" fill="#ff0000"/>
<circle cx="84.35" cy="134.40" r="1.45" fill="#ff0000"/>
<circle cx="89.65" cy="136.20" r="1.45" fill="#ff0000"/>
<circle cx="94.94" cy="131.60" r="1.45" fill="#ff0000"/>
<circle cx="100.23" cy="130.70" r="1.45" fill="#ff0000"/>
<circle cx="105.53" cy="138.10" r="1.45" fill="#ff0000"/>
<circle cx="110.82" cy="129.40" r="1.45" fill="#ff0000"/>
<circle cx="116.12" cy="134.80" r="1.45" fill="#ff0000"/>
<circle cx="121.41" cy="129.40" r="1.45" fill="#ff0000"/>
<circle cx="126.70" cy="125.70" r="1.45" fill="#ff0000"/>
<circle cx="132.00" cy="131.10" r="1.45" fill="#ff0000"/>
<circle cx="137.29" cy="124.90" r="1.45" fill="#ff0000"/>
<circle cx="142.59" cy="130.30" r="1.45" fill="#ff0000"/>
<circle cx="147.88" cy="132.50" r="1.45" fill="#ff0000"/>
<circle cx="153.17" cy="123.30" r="1.45" fill="#ff0000"/>
<circle cx="158.47" cy="123.90" r="1.45" fill="#ff0000"/>
<circle cx="163.76" cy="121.00" r="1.45" fill="#ff0000"/>
<circle cx="169.06" cy="120.00" r="1.45" fill="#ff0000"/>
<circle cx="174.35" cy="120.40" r="1.45" fill="#ff0000"/>
<circle cx="179.64" cy="122.00" r="1.45" fill="#ff0000"/>
<circle cx="184.94" cy="121.60" r="1.45" fill="#ff0000"/>
<circle cx="190.23" cy="117.10" r="1.45" fill="#ff0000"/>
<circle cx="195.53" cy="114.70" r="1.45" fill="#ff0000"/>
<circle cx="200.82" cy="115.50" r="1.45" fill="#ff0000"/>
<circle cx="206.11" cy="116.00" r="1.45" fill="#ff0000"/>
<circle cx="211.41" cy="112.00" r="1.45" fill="#ff0000"/>
<circle cx="216.70" cy="117.10" r="1.45" fill="#ff0000"/>
<circle cx="222.00" cy="113.70" r="1.45" fill="#ff0000"/>
<circle cx="227.29" cy="110.90" r="1.45" fill="#ff0000"/>
<circle cx="232.58" cy="113.70" r="1.45" fill="#ff0000"/>
<circle cx="237.88" cy="112.90" r="1.45" fill="#ff0000"/>
<circle cx="243.17" cy="113.30" r="1.45" fill="#ff0000"/>
<circle cx="248.47" cy="113.30" r="1.45" fill="#ff0000"/>
<circle cx="253.76" cy="109.30" r="1.45" fill="#ff0000"/>
<circle cx="259.05" cy="114.40" r="1.45" fill="#ff0000"/>
<circle cx="264.35" cy="111.50" r="1.45" fill="#ff0000"/>
<circle cx="269.64" cy="109.00" r="1.45" fill="#ff0000"/>
<circle cx="274.94" cy="107.10" r="1.45" fill="#ff0000"/>
<circle cx="280.23" cy="105.10" r="1.45" fill="#ff0000"/>
<circle cx="285.52" cy="109.00" r="1.45" fill="#ff0000"/>
<circle cx="290.82" cy="105.50" r="1.45" fill="#ff0000"/>
<circle cx="296.11" cy="103.50" r="1.45" fill="#ff0000"/>
<circle cx="301.41" cy="103.10" r="1.45" fill="#ff0000"/>
<circle cx="306.70" cy="103.50" r="1.45" fill="#ff0000"/>
<circle cx="311.99" cy="102.10" r="1.45" fill="#ff0000"/>
<circle cx="317.29" cy="102.00" r="1.45" fill="#ff0000"/>
<circle cx="322.58" cy="100.00" r="1.45" fill="#ff0000"/>
<circle cx="327.88" cy="104.20" r="1.45" fill="#ff0000"/>
<circle cx="333.17" cy="98.50" r="1.45" fill="#ff0000"/>
<circle cx="338.46" cy="99.30" r="1.45" fill="#ff0000"/>
<circle cx="343.76" cy="96.10" r="1.45" fill="#ff0000"/>
<circle cx="349.05" cy="98.30" r="1.45" fill="#ff0000"/>
<circle cx="354.35" cy="101.70" r="1.45" fill="#ff0000"/>
<circle cx="359.64" cy="97.70" r="1.45" fill="#ff0000"/>
<circle cx="364.93" cy="98.30" r="1.45" fill="#ff0000"/>
<circle cx="370.23" cy="94.60" r="1.45" fill="#ff0000"/>
<circle cx="375.52" cy="97.20" r="1.45" fill="#ff0000"/>
<circle cx="380.82" cy="93.00" r="1.45" fill="#ff0000"/>
<circle cx="386.11" cy="92.10" r="1.45" fill="#ff0000"/>
<circle cx="391.40" cy="94.50" r="1.45" fill="#ff0000"/>
<circle cx="396.70" cy="92.10" r="1.45" fill="#ff0000"/>
<circle cx="401.99" cy="92.00" r="1.45" fill="#ff0000"/>
<circle cx="407.29" cy="90.00" r="1.45" fill="#ff0000"/>
<circle cx="412.58" cy="87.50" r="1.45" fill="#ff0000"/>
<circle cx="417.87" cy="91.40" r="1.45" fill="#ff0000"/>
<circle cx="423.17" cy="87.50" r="1.45" fill="#ff0000"/>
<circle cx="428.46" cy="86.70" r="1.45" fill="#ff0000"/>
<circle cx="433.76" cy="85.50" r="1.45" fill="#ff0000"/>
<circle cx="439.05" cy="81.60" r="1.45" fill="#ff0000"/>
<circle cx="444.34" cy="86.70" r="1.45" fill="#ff0000"/>
<circle cx="449.64" cy="85.50" r="1.45" fill="#ff0000"/>
<circle cx="454.93" cy="85.50" r="1.45" fill="#ff0000"/>
<circle cx="460.23" cy="81.20" r="1.45" fill="#ff0000"/>
<circle cx="465.52" cy="85.10" r="1.45" fill="#ff0000"/>
<circle cx="470.81" cy="81.30" r="1.45" fill="#ff0000"/>
<circle cx="476.11" cy="82.90" r="1.45" fill="#ff0000"/>
<circle cx="481.40" cy="85.30" r="1.45" fill="#ff0000"/>
<circle cx="486.70" cy="80.60" r="1.45" fill="#ff0000"/>
<circle cx="491.99" cy="80.60" r="1.45" fill="#ff0000"/>
<circle cx="497.28" cy="77.50" r="1.45" fill="#ff0000"/>
<circle cx="502.58" cy="76.10" r="1.45" fill="#ff0000"/>
<circle cx="507.87" cy="77.10" r="1.45" fill="#ff0000"/>
<circle cx="513.17" cy="78.30" r="1.45" fill="#ff0000"/>
<circle cx="518.46" cy="76.10" r="1.45" fill="#ff0000"/>
<circle cx="523.75" cy="78.80" r="1.45" fill="#ff0000"/>
<circle cx="529.05" cy="76.10" r="1.45" fill="#ff0000"/>
<circle cx="534.34" cy="74.00" r="1.45" fill="#ff0000"/>
<circle cx="539.64" cy="75.70" r="1.45" fill="#ff0000"/>
<circle cx="544.93" cy="74.00" r="1.45" fill="#ff0000"/>
<circle cx="550.22" cy="75.70" r="1.45" fill="#ff0000"/>
<circle cx="555.52" cy="71.20" r="1.45" fill="#ff0000"/>
<circle cx="560.81" cy="72.60" r="1.45" fill="#ff0000"/>
<circle cx="566.11" cy="72.20" r="1.45" fill="#ff0000"/>
<circle cx="571.40" cy="65.80" r="1.45" fill="#ff0000"/>
<rect x="45.2" y="11.4" width="97.3" height="28.2" fill="#fff" stroke="#bdbdbd" stroke-width="0.8"/>
<line x1="47.1" y1="16.6" x2="58.3" y2="16.6" stroke="#7070ff" stroke-width="0.9"/>
<circle cx="52.7" cy="16.6" r="1.1" fill="none" stroke="#3030ff" stroke-width="0.7"/>
<circle cx="52.7" cy="25.5" r="1.4" fill="#ff0000"/>
<line x1="52.7" y1="31.4" x2="52.7" y2="37.4" stroke="#ff6060" stroke-width="0.7"/>
<line x1="51.7" y1="31.4" x2="53.7" y2="31.4" stroke="#ff6060" stroke-width="0.7"/>
<line x1="51.7" y1="37.4" x2="53.7" y2="37.4" stroke="#ff6060" stroke-width="0.7"/>
<circle cx="52.7" cy="34.4" r="1" fill="none" stroke="#ff6060" stroke-width="0.6"/>
<text x="60" y="19.3" font-size="7.4" fill="#111" stroke="#111" stroke-width="0.15">Actual Life</text>
<text x="60" y="27.8" font-size="7.4" fill="#111" stroke="#111" stroke-width="0.15">Predicted Life</text>
<text x="60" y="36.9" font-size="7.4" fill="#111" stroke="#111" stroke-width="0.15">95% Confidence Interval</text>
<text transform="translate(29.8,128.9) rotate(-90)" font-size="7.3" fill="#111" stroke="#111" stroke-width="0.15">Remaining useful life (in cycles)</text>
<text x="306.5" y="162.4" font-size="7.4" text-anchor="middle" fill="#111" stroke="#111" stroke-width="0.15">Testing engine</text>
<rect x="42.0" y="196.5" width="529.2" height="140.10000000000002" fill="none" stroke="#e0e0e0" stroke-width="1.3"/>
<text x="42.00" y="343.40000000000003" font-size="4" text-anchor="middle" fill="#333" stroke="#333" stroke-width="0.25">0</text>
<line x1="94.92" y1="336.6" x2="94.92" y2="331.3" stroke="#8c8c8c" stroke-width="0.8"/>
<line x1="94.92" y1="196.5" x2="94.92" y2="201.8" stroke="#8c8c8c" stroke-width="0.8"/>
<text x="94.92" y="343.40000000000003" font-size="4" text-anchor="middle" fill="#333" stroke="#333" stroke-width="0.25">10</text>
<line x1="147.84" y1="336.6" x2="147.84" y2="331.3" stroke="#8c8c8c" stroke-width="0.8"/>
<line x1="147.84" y1="196.5" x2="147.84" y2="201.8" stroke="#8c8c8c" stroke-width="0.8"/>
<text x="147.84" y="343.40000000000003" font-size="4" text-anchor="middle" fill="#333" stroke="#333" stroke-width="0.25">20</text>
<line x1="200.76" y1="336.6" x2="200.76" y2="331.3" stroke="#8c8c8c" stroke-width="0.8"/>
<line x1="200.76" y1="196.5" x2="200.76" y2="201.8" stroke="#8c8c8c" stroke-width="0.8"/>
<text x="200.76" y="343.40000000000003" font-size="4" text-anchor="middle" fill="#333" stroke="#333" stroke-width="0.25">30</text>
<line x1="253.68" y1="336.6" x2="253.68" y2="331.3" stroke="#8c8c8c" stroke-width="0.8"/>
<line x1="253.68" y1="196.5" x2="253.68" y2="201.8" stroke="#8c8c8c" stroke-width="0.8"/>
<text x="253.68" y="343.40000000000003" font-size="4" text-anchor="middle" fill="#333" stroke="#333" stroke-width="0.25">40</text>
<line x1="306.60" y1="336.6" x2="306.60" y2="331.3" stroke="#8c8c8c" stroke-width="0.8"/>
<line x1="306.60" y1="196.5" x2="306.60" y2="201.8" stroke="#8c8c8c" stroke-width="0.8"/>
<text x="306.60" y="343.40000000000003" font-size="4" text-anchor="middle" fill="#333" stroke="#333" stroke-width="0.25">50</text>
<line x1="359.52" y1="336.6" x2="359.52" y2="331.3" stroke="#8c8c8c" stroke-width="0.8"/>
<line x1="359.52" y1="196.5" x2="359.52" y2="201.8" stroke="#8c8c8c" stroke-width="0.8"/>
<text x="359.52" y="343.40000000000003" font-size="4" text-anchor="middle" fill="#333" stroke="#333" stroke-width="0.25">60</text>
<line x1="412.44" y1="336.6" x2="412.44" y2="331.3" stroke="#8c8c8c" stroke-width="0.8"/>
<line x1="412.44" y1="196.5" x2="412.44" y2="201.8" stroke="#8c8c8c" stroke-width="0.8"/>
<text x="412.44" y="343.40000000000003" font-size="4" text-anchor="middle" fill="#333" stroke="#333" stroke-width="0.25">70</text>
<line x1="465.36" y1="336.6" x2="465.36" y2="331.3" stroke="#8c8c8c" stroke-width="0.8"/>
<line x1="465.36" y1="196.5" x2="465.36" y2="201.8" stroke="#8c8c8c" stroke-width="0.8"/>
<text x="465.36" y="343.40000000000003" font-size="4" text-anchor="middle" fill="#333" stroke="#333" stroke-width="0.25">80</text>
<line x1="518.28" y1="336.6" x2="518.28" y2="331.3" stroke="#8c8c8c" stroke-width="0.8"/>
<line x1="518.28" y1="196.5" x2="518.28" y2="201.8" stroke="#8c8c8c" stroke-width="0.8"/>
<text x="518.28" y="343.40000000000003" font-size="4" text-anchor="middle" fill="#333" stroke="#333" stroke-width="0.25">90</text>
<text x="571.20" y="343.40000000000003" font-size="4" text-anchor="middle" fill="#333" stroke="#333" stroke-width="0.25">100</text>
<line x1="42.0" y1="336.50" x2="47.3" y2="336.50" stroke="#8c8c8c" stroke-width="0.8"/>
<line x1="571.2" y1="336.50" x2="565.9000000000001" y2="336.50" stroke="#8c8c8c" stroke-width="0.8"/>
<text x="40.0" y="337.90" font-size="4" text-anchor="end" fill="#333" stroke="#333" stroke-width="0.25">-100</text>
<line x1="42.0" y1="322.50" x2="47.3" y2="322.50" stroke="#8c8c8c" stroke-width="0.8"/>
<line x1="571.2" y1="322.50" x2="565.9000000000001" y2="322.50" stroke="#8c8c8c" stroke-width="0.8"/>
<text x="40.0" y="323.90" font-size="4" text-anchor="end" fill="#333" stroke="#333" stroke-width="0.25">-80</text>
<line x1="42.0" y1="308.50" x2="47.3" y2="308.50" stroke="#8c8c8c" stroke-width="0.8"/>
<line x1="571.2" y1="308.50" x2="565.9000000000001" y2="308.50" stroke="#8c8c8c" stroke-width="0.8"/>
<text x="40.0" y="309.90" font-size="4" text-anchor="end" fill="#333" stroke="#333" stroke-width="0.25">-60</text>
<line x1="42.0" y1="294.50" x2="47.3" y2="294.50" stroke="#8c8c8c" stroke-width="0.8"/>
<line x1="571.2" y1="294.50" x2="565.9000000000001" y2="294.50" stroke="#8c8c8c" stroke-width="0.8"/>
<text x="40.0" y="295.90" font-size="4" text-anchor="end" fill="#333" stroke="#333" stroke-width="0.25">-40</text>
<line x1="42.0" y1="280.50" x2="47.3" y2="280.50" stroke="#8c8c8c" stroke-width="0.8"/>
<line x1="571.2" y1="280.50" x2="565.9000000000001" y2="280.50" stroke="#8c8c8c" stroke-width="0.8"/>
<text x="40.0" y="281.90" font-size="4" text-anchor="end" fill="#333" stroke="#333" stroke-width="0.25">-20</text>
<line x1="42.0" y1="266.50" x2="47.3" y2="266.50" stroke="#8c8c8c" stroke-width="0.8"/>
<line x1="571.2" y1="266.50" x2="565.9000000000001" y2="266.50" stroke="#8c8c8c" stroke-width="0.8"/>
<text x="40.0" y="267.90" font-size="4" text-anchor="end" fill="#333" stroke="#333" stroke-width="0.25">0</text>
<line x1="42.0" y1="252.50" x2="47.3" y2="252.50" stroke="#8c8c8c" stroke-width="0.8"/>
<line x1="571.2" y1="252.50" x2="565.9000000000001" y2="252.50" stroke="#8c8c8c" stroke-width="0.8"/>
<text x="40.0" y="253.90" font-size="4" text-anchor="end" fill="#333" stroke="#333" stroke-width="0.25">20</text>
<line x1="42.0" y1="238.50" x2="47.3" y2="238.50" stroke="#8c8c8c" stroke-width="0.8"/>
<line x1="571.2" y1="238.50" x2="565.9000000000001" y2="238.50" stroke="#8c8c8c" stroke-width="0.8"/>
<text x="40.0" y="239.90" font-size="4" text-anchor="end" fill="#333" stroke="#333" stroke-width="0.25">40</text>
<line x1="42.0" y1="224.50" x2="47.3" y2="224.50" stroke="#8c8c8c" stroke-width="0.8"/>
<line x1="571.2" y1="224.50" x2="565.9000000000001" y2="224.50" stroke="#8c8c8c" stroke-width="0.8"/>
<text x="40.0" y="225.90" font-size="4" text-anchor="end" fill="#333" stroke="#333" stroke-width="0.25">60</text>
<line x1="42.0" y1="210.50" x2="47.3" y2="210.50" stroke="#8c8c8c" stroke-width="0.8"/>
<line x1="571.2" y1="210.50" x2="565.9000000000001" y2="210.50" stroke="#8c8c8c" stroke-width="0.8"/>
<text x="40.0" y="211.90" font-size="4" text-anchor="end" fill="#333" stroke="#333" stroke-width="0.25">80</text>
<polyline points="47.29,241.80 52.58,236.30 57.88,264.10 63.17,241.80 68.46,258.40 73.75,252.40 79.04,244.70 84.34,241.20 89.63,253.50 94.92,240.80 100.21,238.80 105.50,269.00 110.80,238.20 116.09,258.40 121.38,246.10 126.67,238.80 131.96,260.80 137.26,240.80 142.55,257.80 147.84,265.40 153.13,241.60 158.42,252.40 163.72,252.40 169.01,250.40 174.30,252.40 179.59,263.70 184.88,263.70 190.18,247.60 195.47,248.00 200.76,253.00 206.05,254.70 211.34,250.10 216.64,267.10 221.93,255.00 227.22,245.30 232.51,254.60 237.80,253.80 243.10,255.70 248.39,255.00 253.68,246.20 258.97,262.90 264.26,262.90 269.56,259.40 274.85,255.00 280.14,250.10 285.43,261.90 290.72,252.40 296.02,250.90 301.31,249.00 306.60,261.70 311.89,258.60 317.18,259.40 322.48,252.80 327.77,271.50 333.06,261.20 338.35,264.10 343.64,256.80 348.94,262.60 354.23,273.40 359.52,260.90 364.81,264.10 370.10,253.80 375.40,262.10 380.69,255.30 385.98,253.80 391.27,273.40 396.56,265.00 401.86,266.00 407.15,260.10 412.44,257.60 417.73,271.90 423.02,266.50 428.32,270.90 433.61,269.70 438.90,261.20 444.19,276.80 449.48,271.90 454.78,273.40 460.07,263.50 465.36,275.60 470.65,266.00 475.94,276.30 481.24,281.80 486.53,271.90 491.82,273.40 497.11,271.20 502.40,266.80 507.70,270.00 512.99,276.30 518.28,271.90 523.57,284.10 528.86,275.60 534.16,271.90 539.45,278.80 544.74,275.60 550.03,281.80 555.32,280.70 560.62,285.90 565.91,285.60 571.20,263.10" fill="none" stroke="#7777ff" stroke-width="0.6"/>
<rect x="45.99" y="240.50" width="2.6" height="2.6" fill="#0000ff"/>
<rect x="51.28" y="235.00" width="2.6" height="2.6" fill="#0000ff"/>
<rect x="56.58" y="262.80" width="2.6" height="2.6" fill="#0000ff"/>
<rect x="61.87" y="240.50" width="2.6" height="2.6" fill="#0000ff"/>
<rect x="67.16" y="257.10" width="2.6" height="2.6" fill="#0000ff"/>
<rect x="72.45" y="251.10" width="2.6" height="2.6" fill="#0000ff"/>
<rect x="77.74" y="243.40" width="2.6" height="2.6" fill="#0000ff"/>
<rect x="83.04" y="239.90" width="2.6" height="2.6" fill="#0000ff"/>
<rect x="88.33" y="252.20" width="2.6" height="2.6" fill="#0000ff"/>
<rect x="93.62" y="239.50" width="2.6" height="2.6" fill="#0000ff"/>
<rect x="98.91" y="237.50" width="2.6" height="2.6" fill="#0000ff"/>
<rect x="104.20" y="267.70" width="2.6" height="2.6" fill="#0000ff"/>
<rect x="109.50" y="236.90" width="2.6" height="2.6" fill="#0000ff"/>
<rect x="114.79" y="257.10" width="2.6" height="2.6" fill="#0000ff"/>
<rect x="120.08" y="244.80" width="2.6" height="2.6" fill="#0000ff"/>
<rect x="125.37" y="237.50" width="2.6" height="2.6" fill="#0000ff"/>
<rect x="130.66" y="259.50" width="2.6" height="2.6" fill="#0000ff"/>
<rect x="135.96" y="239.50" width="2.6" height="2.6" fill="#0000ff"/>
<rect x="141.25" y="256.50" width="2.6" height="2.6" fill="#0000ff"/>
<rect x="146.54" y="264.10" width="2.6" height="2.6" fill="#0000ff"/>
<rect x="151.83" y="240.30" width="2.6" height="2.6" fill="#0000ff"/>
<rect x="157.12" y="251.10" width="2.6" height="2.6" fill="#0000ff"/>
<rect x="162.42" y="251.10" width="2.6" height="2.6" fill="#0000ff"/>
<rect x="167.71" y="249.10" width="2.6" height="2.6" fill="#0000ff"/>
<rect x="173.00" y="251.10" width="2.6" height="2.6" fill="#0000ff"/>
<rect x="178.29" y="262.40" width="2.6" height="2.6" fill="#0000ff"/>
<rect x="183.58" y="262.40" width="2.6" height="2.6" fill="#0000ff"/>
<rect x="188.88" y="246.30" width="2.6" height="2.6" fill="#0000ff"/>
<rect x="194.17" y="246.70" width="2.6" height="2.6" fill="#0000ff"/>
<rect x="199.46" y="251.70" width="2.6" height="2.6" fill="#0000ff"/>
<rect x="204.75" y="253.40" width="2.6" height="2.6" fill="#0000ff"/>
<rect x="210.04" y="248.80" width="2.6" height="2.6" fill="#0000ff"/>
<rect x="215.34" y="265.80" width="2.6" height="2.6" fill="#0000ff"/>
<rect x="220.63" y="253.70" width="2.6" height="2.6" fill="#0000ff"/>
<rect x="225.92" y="244.00" width="2.6" height="2.6" fill="#0000ff"/>
<rect x="231.21" y="253.30" width="2.6" height="2.6" fill="#0000ff"/>
<rect x="236.50" y="252.50" width="2.6" height="2.6" fill="#0000ff"/>
<rect x="241.80" y="254.40" width="2.6" height="2.6" fill="#0000ff"/>
<rect x="247.09" y="253.70" width="2.6" height="2.6" fill="#0000ff"/>
<rect x="252.38" y="244.90" width="2.6" height="2.6" fill="#0000ff"/>
<rect x="257.67" y="261.60" width="2.6" height="2.6" fill="#0000ff"/>
<rect x="262.96" y="261.60" width="2.6" height="2.6" fill="#0000ff"/>
<rect x="268.26" y="258.10" width="2.6" height="2.6" fill="#0000ff"/>
<rect x="273.55" y="253.70" width="2.6" height="2.6" fill="#0000ff"/>
<rect x="278.84" y="248.80" width="2.6" height="2.6" fill="#0000ff"/>
<rect x="284.13" y="260.60" width="2.6" height="2.6" fill="#0000ff"/>
<rect x="289.42" y="251.10" width="2.6" height="2.6" fill="#0000ff"/>
<rect x="294.72" y="249.60" width="2.6" height="2.6" fill="#0000ff"/>
<rect x="300.01" y="247.70" width="2.6" height="2.6" fill="#0000ff"/>
<rect x="305.30" y="260.40" width="2.6" height="2.6" fill="#0000ff"/>
<rect x="310.59" y="257.30" width="2.6" height="2.6" fill="#0000ff"/>
<rect x="315.88" y="258.10" width="2.6" height="2.6" fill="#0000ff"/>
<rect x="321.18" y="251.50" width="2.6" height="2.6" fill="#0000ff"/>
<rect x="326.47" y="270.20" width="2.6" height="2.6" fill="#0000ff"/>
<rect x="331.76" y="259.90" width="2.6" height="2.6" fill="#0000ff"/>
<rect x="337.05" y="262.80" width="2.6" height="2.6" fill="#0000ff"/>
<rect x="342.34" y="255.50" width="2.6" height="2.6" fill="#0000ff"/>
<rect x="347.64" y="261.30" width="2.6" height="2.6" fill="#0000ff"/>
<rect x="352.93" y="272.10" width="2.6" height="2.6" fill="#0000ff"/>
<rect x="358.22" y="259.60" width="2.6" height="2.6" fill="#0000ff"/>
<rect x="363.51" y="262.80" width="2.6" height="2.6" fill="#0000ff"/>
<rect x="368.80" y="252.50" width="2.6" height="2.6" fill="#0000ff"/>
<rect x="374.10" y="260.80" width="2.6" height="2.6" fill="#0000ff"/>
<rect x="379.39" y="254.00" width="2.6" height="2.6" fill="#0000ff"/>
<rect x="384.68" y="252.50" width="2.6" height="2.6" fill="#0000ff"/>
<rect x="389.97" y="272.10" width="2.6" height="2.6" fill="#0000ff"/>
<rect x="395.26" y="263.70" width="2.6" height="2.6" fill="#0000ff"/>
<rect x="400.56" y="264.70" width="2.6" height="2.6" fill="#0000ff"/>
<rect x="405.85" y="258.80" width="2.6" height="2.6" fill="#0000ff"/>
<rect x="411.14" y="256.30" width="2.6" height="2.6" fill="#0000ff"/>
<rect x="416.43" y="270.60" width="2.6" height="2.6" fill="#0000ff"/>
<rect x="421.72" y="265.20" width="2.6" height="2.6" fill="#0000ff"/>
<rect x="427.02" y="269.60" width="2.6" height="2.6" fill="#0000ff"/>
<rect x="432.31" y="268.40" width="2.6" height="2.6" fill="#0000ff"/>
<rect x="437.60" y="259.90" width="2.6" height="2.6" fill="#0000ff"/>
<rect x="442.89" y="275.50" width="2.6" height="2.6" fill="#0000ff"/>
<rect x="448.18" y="270.60" width="2.6" height="2.6" fill="#0000ff"/>
<rect x="453.48" y="272.10" width="2.6" height="2.6" fill="#0000ff"/>
<rect x="458.77" y="262.20" width="2.6" height="2.6" fill="#0000ff"/>
<rect x="464.06" y="274.30" width="2.6" height="2.6" fill="#0000ff"/>
<rect x="469.35" y="264.70" width="2.6" height="2.6" fill="#0000ff"/>
<rect x="474.64" y="275.00" width="2.6" height="2.6" fill="#0000ff"/>
<rect x="479.94" y="280.50" width="2.6" height="2.6" fill="#0000ff"/>
<rect x="485.23" y="270.60" width="2.6" height="2.6" fill="#0000ff"/>
<rect x="490.52" y="272.10" width="2.6" height="2.6" fill="#0000ff"/>
<rect x="495.81" y="269.90" width="2.6" height="2.6" fill="#0000ff"/>
<rect x="501.10" y="265.50" width="2.6" height="2.6" fill="#0000ff"/>
<rect x="506.40" y="268.70" width="2.6" height="2.6" fill="#0000ff"/>
<rect x="511.69" y="275.00" width="2.6" height="2.6" fill="#0000ff"/>
<rect x="516.98" y="270.60" width="2.6" height="2.6" fill="#0000ff"/>
<rect x="522.27" y="282.80" width="2.6" height="2.6" fill="#0000ff"/>
<rect x="527.56" y="274.30" width="2.6" height="2.6" fill="#0000ff"/>
<rect x="532.86" y="270.60" width="2.6" height="2.6" fill="#0000ff"/>
<rect x="538.15" y="277.50" width="2.6" height="2.6" fill="#0000ff"/>
<rect x="543.44" y="274.30" width="2.6" height="2.6" fill="#0000ff"/>
<rect x="548.73" y="280.50" width="2.6" height="2.6" fill="#0000ff"/>
<rect x="554.02" y="279.40" width="2.6" height="2.6" fill="#0000ff"/>
<rect x="559.32" y="284.60" width="2.6" height="2.6" fill="#0000ff"/>
<rect x="564.61" y="284.30" width="2.6" height="2.6" fill="#0000ff"/>
<rect x="569.90" y="261.80" width="2.6" height="2.6" fill="#0000ff"/>
<polyline points="47.29,244.10 52.58,215.30 57.88,266.30 63.17,244.10 68.46,265.10 73.75,262.20 79.04,251.60 84.34,241.20 89.63,263.10 94.92,238.80 100.21,232.40 105.50,266.30 110.80,229.00 116.09,265.10 121.38,254.50 126.67,232.40 131.96,265.70 137.26,238.80 142.55,264.30 147.84,266.50 153.13,241.60 158.42,262.40 163.72,262.40 169.01,260.40 174.30,262.40 179.59,266.70 184.88,266.70 190.18,256.90 195.47,257.80 200.76,262.80 206.05,263.50 211.34,259.70 216.64,266.80 221.93,263.40 227.22,253.10 232.51,263.40 237.80,262.90 243.10,263.80 248.39,263.40 253.68,254.60 258.97,266.30 264.26,266.30 269.56,265.30 274.85,263.40 280.14,259.70 285.43,265.90 290.72,261.90 296.02,260.90 301.31,258.50 306.60,265.70 311.89,265.10 317.18,265.30 322.48,262.40 327.77,265.70 333.06,265.60 338.35,266.00 343.64,264.60 348.94,265.60 354.23,265.60 359.52,265.40 364.81,266.20 370.10,263.10 375.40,265.60 380.69,263.50 385.98,263.10 391.27,265.60 396.56,266.00 401.86,266.50 407.15,265.30 412.44,265.00 417.73,265.60 423.02,266.50 428.32,266.00 433.61,266.00 438.90,265.30 444.19,265.00 449.48,265.60 454.78,265.60 460.07,265.60 465.36,265.00 470.65,266.00 475.94,265.00 481.24,263.10 486.53,265.60 491.82,265.30 497.11,266.00 502.40,266.50 507.70,265.60 512.99,265.00 518.28,265.60 523.57,262.10 528.86,265.30 534.16,265.60 539.45,264.60 544.74,265.30 550.03,263.50 555.32,263.80 560.62,261.20 565.91,261.60 571.20,266.00" fill="none" stroke="#ff8888" stroke-width="0.6"/>
<path d="M47.29 242.20L48.89 244.10L47.29 246.00L45.69 244.10Z" fill="#ff0000"/>
<path d="M52.58 213.40L54.18 215.30L52.58 217.20L50.98 215.30Z" fill="#ff0000"/>
<path d="M57.88 264.40L59.48 266.30L57.88 268.20L56.28 266.30Z" fill="#ff0000"/>
<path d="M63.17 242.20L64.77 244.10L63.17 246.00L61.57 244.10Z" fill="#ff0000"/>
<path d="M68.46 263.20L70.06 265.10L68.46 267.00L66.86 265.10Z" fill="#ff0000"/>
<path d="M73.75 260.30L75.35 262.20L73.75 264.10L72.15 262.20Z" fill="#ff0000"/>
<path d="M79.04 249.70L80.64 251.60L79.04 253.50L77.44 251.60Z" fill="#ff0000"/>
<path d="M84.34 239.30L85.94 241.20L84.34 243.10L82.74 241.20Z" fill="#ff0000"/>
<path d="M89.63 261.20L91.23 263.10L89.63 265.00L88.03 263.10Z" fill="#ff0000"/>
<path d="M94.92 236.90L96.52 238.80L94.92 240.70L93.32 238.80Z" fill="#ff0000"/>
<path d="M100.21 230.50L101.81 232.40L100.21 234.30L98.61 232.40Z" fill="#ff0000"/>
<path d="M105.50 264.40L107.10 266.30L105.50 268.20L103.90 266.30Z" fill="#ff0000"/>
<path d="M110.80 227.10L112.40 229.00L110.80 230.90L109.20 229.00Z" fill="#ff0000"/>
<path d="M116.09 263.20L117.69 265.10L116.09 267.00L114.49 265.10Z" fill="#ff0000"/>
<path d="M121.38 252.60L122.98 254.50L121.38 256.40L119.78 254.50Z" fill="#ff0000"/>
<path d="M126.67 230.50L128.27 232.40L126.67 234.30L125.07 232.40Z" fill="#ff0000"/>
<path d="M131.96 263.80L133.56 265.70L131.96 267.60L130.36 265.70Z" fill="#ff0000"/>
<path d="M137.26 236.90L138.86 238.80L137.26 240.70L135.66 238.80Z" fill="#ff0000"/>
<path d="M142.55 262.40L144.15 264.30L142.55 266.20L140.95 264.30Z" fill="#ff0000"/>
<path d="M147.84 264.60L149.44 266.50L147.84 268.40L146.24 266.50Z" fill="#ff0000"/>
<path d="M153.13 239.70L154.73 241.60L153.13 243.50L151.53 241.60Z" fill="#ff0000"/>
<path d="M158.42 260.50L160.02 262.40L158.42 264.30L156.82 262.40Z" fill="#ff0000"/>
<path d="M163.72 260.50L165.32 262.40L163.72 264.30L162.12 262.40Z" fill="#ff0000"/>
<path d="M169.01 258.50L170.61 260.40L169.01 262.30L167.41 260.40Z" fill="#ff0000"/>
<path d="M174.30 260.50L175.90 262.40L174.30 264.30L172.70 262.40Z" fill="#ff0000"/>
<path d="M179.59 264.80L181.19 266.70L179.59 268.60L177.99 266.70Z" fill="#ff0000"/>
<path d="M184.88 264.80L186.48 266.70L184.88 268.60L183.28 266.70Z" fill="#ff0000"/>
<path d="M190.18 255.00L191.78 256.90L190.18 258.80L188.58 256.90Z" fill="#ff0000"/>
<path d="M195.47 255.90L197.07 257.80L195.47 259.70L193.87 257.80Z" fill="#ff0000"/>
<path d="M200.76 260.90L202.36 262.80L200.76 264.70L199.16 262.80Z" fill="#ff0000"/>
<path d="M206.05 261.60L207.65 263.50L206.05 265.40L204.45 263.50Z" fill="#ff0000"/>
<path d="M211.34 257.80L212.94 259.70L211.34 261.60L209.74 259.70Z" fill="#ff0000"/>
<path d="M216.64 264.90L218.24 266.80L216.64 268.70L215.04 266.80Z" fill="#ff0000"/>
<path d="M221.93 261.50L223.53 263.40L221.93 265.30L220.33 263.40Z" fill="#ff0000"/>
<path d="M227.22 251.20L228.82 253.10L227.22 255.00L225.62 253.10Z" fill="#ff0000"/>
<path d="M232.51 261.50L234.11 263.40L232.51 265.30L230.91 263.40Z" fill="#ff0000"/>
<path d="M237.80 261.00L239.40 262.90L237.80 264.80L236.20 262.90Z" fill="#ff0000"/>
<path d="M243.10 261.90L244.70 263.80L243.10 265.70L241.50 263.80Z" fill="#ff0000"/>
<path d="M248.39 261.50L249.99 263.40L248.39 265.30L246.79 263.40Z" fill="#ff0000"/>
<path d="M253.68 252.70L255.28 254.60L253.68 256.50L252.08 254.60Z" fill="#ff0000"/>
<path d="M258.97 264.40L260.57 266.30L258.97 268.20L257.37 266.30Z" fill="#ff0000"/>
<path d="M264.26 264.40L265.86 266.30L264.26 268.20L262.66 266.30Z" fill="#ff0000"/>
<path d="M269.56 263.40L271.16 265.30L269.56 267.20L267.96 265.30Z" fill="#ff0000"/>
<path d="M274.85 261.50L276.45 263.40L274.85 265.30L273.25 263.40Z" fill="#ff0000"/>
<path d="M280.14 257.80L281.74 259.70L280.14 261.60L278.54 259.70Z" fill="#ff0000"/>
<path d="M285.43 264.00L287.03 265.90L285.43 267.80L283.83 265.90Z" fill="#ff0000"/>
<path d="M290.72 260.00L292.32 261.90L290.72 263.80L289.12 261.90Z" fill="#ff0000"/>
<path d="M296.02 259.00L297.62 260.90L296.02 262.80L294.42 260.90Z" fill="#ff0000"/>
<path d="M301.31 256.60L302.91 258.50L301.31 260.40L299.71 258.50Z" fill="#ff0000"/>
<path d="M306.60 263.80L308.20 265.70L306.60 267.60L305.00 265.70Z" fill="#ff0000"/>
<path d="M311.89 263.20L313.49 265.10L311.89 267.00L310.29 265.10Z" fill="#ff0000"/>
<path d="M317.18 263.40L318.78 265.30L317.18 267.20L315.58 265.30Z" fill="#ff0000"/>
<path d="M322.48 260.50L324.08 262.40L322.48 264.30L320.88 262.40Z" fill="#ff0000"/>
<path d="M327.77 263.80L329.37 265.70L327.77 267.60L326.17 265.70Z" fill="#ff0000"/>
<path d="M333.06 263.70L334.66 265.60L333.06 267.50L331.46 265.60Z" fill="#ff0000"/>
<path d="M338.35 264.10L339.95 266.00L338.35 267.90L336.75 266.00Z" fill="#ff0000"/>
<path d="M343.64 262.70L345.24 264.60L343.64 266.50L342.04 264.60Z" fill="#ff0000"/>
<path d="M348.94 263.70L350.54 265.60L348.94 267.50L347.34 265.60Z" fill="#ff0000"/>
<path d="M354.23 263.70L355.83 265.60L354.23 267.50L352.63 265.60Z" fill="#ff0000"/>
<path d="M359.52 263.50L361.12 265.40L359.52 267.30L357.92 265.40Z" fill="#ff0000"/>
<path d="M364.81 264.30L366.41 266.20L364.81 268.10L363.21 266.20Z" fill="#ff0000"/>
<path d="M370.10 261.20L371.70 263.10L370.10 265.00L368.50 263.10Z" fill="#ff0000"/>
<path d="M375.40 263.70L377.00 265.60L375.40 267.50L373.80 265.60Z" fill="#ff0000"/>
<path d="M380.69 261.60L382.29 263.50L380.69 265.40L379.09 263.50Z" fill="#ff0000"/>
<path d="M385.98 261.20L387.58 263.10L385.98 265.00L384.38 263.10Z" fill="#ff0000"/>
<path d="M391.27 263.70L392.87 265.60L391.27 267.50L389.67 265.60Z" fill="#ff0000"/>
<path d="M396.56 264.10L398.16 266.00L396.56 267.90L394.96 266.00Z" fill="#ff0000"/>
<path d="M401.86 264.60L403.46 266.50L401.86 268.40L400.26 266.50Z" fill="#ff0000"/>
<path d="M407.15 263.40L408.75 265.30L407.15 267.20L405.55 265.30Z" fill="#ff0000"/>
<path d="M412.44 263.10L414.04 265.00L412.44 266.90L410.84 265.00Z" fill="#ff0000"/>
<path d="M417.73 263.70L419.33 265.60L417.73 267.50L416.13 265.60Z" fill="#ff0000"/>
<path d="M423.02 264.60L424.62 266.50L423.02 268.40L421.42 266.50Z" fill="#ff0000"/>
<path d="M428.32 264.10L429.92 266.00L428.32 267.90L426.72 266.00Z" fill="#ff0000"/>
<path d="M433.61 264.10L435.21 266.00L433.61 267.90L432.01 266.00Z" fill="#ff0000"/>
<path d="M438.90 263.40L440.50 265.30L438.90 267.20L437.30 265.30Z" fill="#ff0000"/>
<path d="M444.19 263.10L445.79 265.00L444.19 266.90L442.59 265.00Z" fill="#ff0000"/>
<path d="M449.48 263.70L451.08 265.60L449.48 267.50L447.88 265.60Z" fill="#ff0000"/>
<path d="M454.78 263.70L456.38 265.60L454.78 267.50L453.18 265.60Z" fill="#ff0000"/>
<path d="M460.07 263.70L461.67 265.60L460.07 267.50L458.47 265.60Z" fill="#ff0000"/>
<path d="M465.36 263.10L466.96 265.00L465.36 266.90L463.76 265.00Z" fill="#ff0000"/>
<path d="M470.65 264.10L472.25 266.00L470.65 267.90L469.05 266.00Z" fill="#ff0000"/>
<path d="M475.94 263.10L477.54 265.00L475.94 266.90L474.34 265.00Z" fill="#ff0000"/>
<path d="M481.24 261.20L482.84 263.10L481.24 265.00L479.64 263.10Z" fill="#ff0000"/>
<path d="M486.53 263.70L488.13 265.60L486.53 267.50L484.93 265.60Z" fill="#ff0000"/>
<path d="M491.82 263.40L493.42 265.30L491.82 267.20L490.22 265.30Z" fill="#ff0000"/>
<path d="M497.11 264.10L498.71 266.00L497.11 267.90L495.51 266.00Z" fill="#ff0000"/>
<path d="M502.40 264.60L504.00 266.50L502.40 268.40L500.80 266.50Z" fill="#ff0000"/>
<path d="M507.70 263.70L509.30 265.60L507.70 267.50L506.10 265.60Z" fill="#ff0000"/>
<path d="M512.99 263.10L514.59 265.00L512.99 266.90L511.39 265.00Z" fill="#ff0000"/>
<path d="M518.28 263.70L519.88 265.60L518.28 267.50L516.68 265.60Z" fill="#ff0000"/>
<path d="M523.57 260.20L525.17 262.10L523.57 264.00L521.97 262.10Z" fill="#ff0000"/>
<path d="M528.86 263.40L530.46 265.30L528.86 267.20L527.26 265.30Z" fill="#ff0000"/>
<path d="M534.16 263.70L535.76 265.60L534.16 267.50L532.56 265.60Z" fill="#ff0000"/>
<path d="M539.45 262.70L541.05 264.60L539.45 266.50L537.85 264.60Z" fill="#ff0000"/>
<path d="M544.74 263.40L546.34 265.30L544.74 267.20L543.14 265.30Z" fill="#ff0000"/>
<path d="M550.03 261.60L551.63 263.50L550.03 265.40L548.43 263.50Z" fill="#ff0000"/>
<path d="M555.32 261.90L556.92 263.80L555.32 265.70L553.72 263.80Z" fill="#ff0000"/>
<path d="M560.62 259.30L562.22 261.20L560.62 263.10L559.02 261.20Z" fill="#ff0000"/>
<path d="M565.91 259.70L567.51 261.60L565.91 263.50L564.31 261.60Z" fill="#ff0000"/>
<path d="M571.20 264.10L572.80 266.00L571.20 267.90L569.60 266.00Z" fill="#ff0000"/>
<rect x="45.2" y="307.3" width="24.8" height="26" fill="#fff" stroke="#bdbdbd" stroke-width="0.8"/>
<line x1="47.1" y1="314.5" x2="58.5" y2="314.5" stroke="#4040ff" stroke-width="0.8"/>
<rect x="51.6" y="313.3" width="2.4" height="2.4" fill="#0000ff"/>
<line x1="47.1" y1="326.7" x2="58.5" y2="326.7" stroke="#ffaaaa" stroke-width="0.8"/>
<path d="M52.8 324.9L54.3 326.7L52.8 328.5L51.3 326.7Z" fill="#ff0000"/>
<text transform="translate(59.5,315) scale(1.35,1)" font-size="7.4" fill="#111" stroke="#111" stroke-width="0.15">d</text>
<text x="64.9" y="318.6" font-size="4.8" fill="#111" stroke="#111" stroke-width="0.1">k</text>
<text x="59.5" y="328.2" font-size="8.8" fill="#111" stroke="#111" stroke-width="0.2">S</text>
<text x="64.8" y="332" font-size="6" fill="#111" stroke="#111" stroke-width="0.1">k</text>
<text transform="translate(29.7,292.4) rotate(-90)" font-size="7.8" fill="#111" stroke="#111" stroke-width="0.15">Prediction error</text>
<text x="306.5" y="351.0" font-size="7.4" text-anchor="middle" fill="#111" stroke="#111" stroke-width="0.15">Testing engine</text>
</g>
<g font-family="'Liberation Serif', serif" fill="#000">
<text x="302.8" y="178.6" font-size="9.5" text-anchor="middle" stroke="#000" stroke-width="0.12">(a)</text>
<text x="311.4" y="370.6" font-size="9.5" text-anchor="middle">(b)</text>
<text x="36.5" y="387" font-size="12" stroke="#000" stroke-width="0.22">Fig. 8. (a) Comparison of real and predicted remaining useful life values with 95% confidence intervals</text>
<text x="75.3" y="402.3" font-size="12" stroke="#000" stroke-width="0.22">and (b) prediction errors for each unit using time series chain graph for the third dataset</text>
</g></svg>
</body></html>
